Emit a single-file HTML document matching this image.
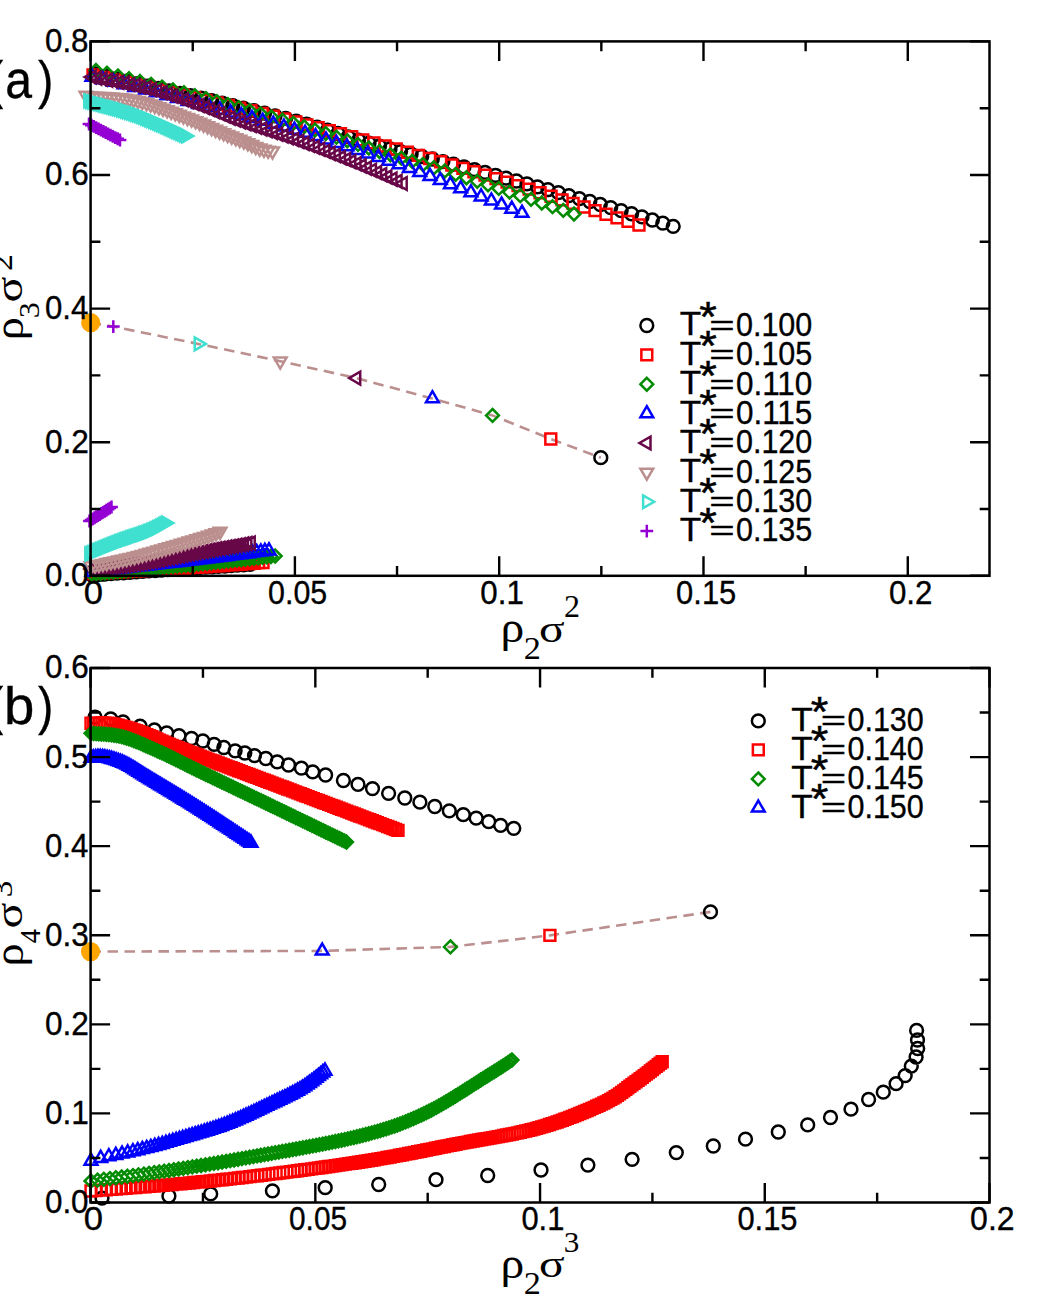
<!DOCTYPE html>
<html><head><meta charset="utf-8"><style>html,body{margin:0;padding:0;background:#fff;overflow:hidden}svg{display:block}</style></head>
<body>
<svg width="1052" height="1304" viewBox="0 0 1052 1304">
<rect width="1052" height="1304" fill="#fff"/>
<defs><clipPath id="c1"><rect x="0" y="0" width="1052" height="640"/></clipPath><clipPath id="c2"><rect x="0" y="640" width="1052" height="664"/></clipPath></defs>
<g clip-path="url(#c1)">
<path d="M101.40 74.00a6.4 6.4 0 1 0 -12.80 0a6.4 6.4 0 1 0 12.80 0ZM112.00 76.41a6.4 6.4 0 1 0 -12.80 0a6.4 6.4 0 1 0 12.80 0ZM122.61 78.81a6.4 6.4 0 1 0 -12.80 0a6.4 6.4 0 1 0 12.80 0ZM133.22 81.21a6.4 6.4 0 1 0 -12.80 0a6.4 6.4 0 1 0 12.80 0ZM143.82 83.62a6.4 6.4 0 1 0 -12.80 0a6.4 6.4 0 1 0 12.80 0ZM154.43 86.03a6.4 6.4 0 1 0 -12.80 0a6.4 6.4 0 1 0 12.80 0ZM165.03 88.45a6.4 6.4 0 1 0 -12.80 0a6.4 6.4 0 1 0 12.80 0ZM175.63 90.87a6.4 6.4 0 1 0 -12.80 0a6.4 6.4 0 1 0 12.80 0ZM186.23 93.31a6.4 6.4 0 1 0 -12.80 0a6.4 6.4 0 1 0 12.80 0ZM196.83 95.76a6.4 6.4 0 1 0 -12.80 0a6.4 6.4 0 1 0 12.80 0ZM207.42 98.24a6.4 6.4 0 1 0 -12.80 0a6.4 6.4 0 1 0 12.80 0ZM218.00 100.72a6.4 6.4 0 1 0 -12.80 0a6.4 6.4 0 1 0 12.80 0ZM228.60 103.19a6.4 6.4 0 1 0 -12.80 0a6.4 6.4 0 1 0 12.80 0ZM239.19 105.67a6.4 6.4 0 1 0 -12.80 0a6.4 6.4 0 1 0 12.80 0ZM249.77 108.15a6.4 6.4 0 1 0 -12.80 0a6.4 6.4 0 1 0 12.80 0ZM260.35 110.66a6.4 6.4 0 1 0 -12.80 0a6.4 6.4 0 1 0 12.80 0ZM270.93 113.21a6.4 6.4 0 1 0 -12.80 0a6.4 6.4 0 1 0 12.80 0ZM281.49 115.80a6.4 6.4 0 1 0 -12.80 0a6.4 6.4 0 1 0 12.80 0ZM292.04 118.45a6.4 6.4 0 1 0 -12.80 0a6.4 6.4 0 1 0 12.80 0ZM302.56 121.18a6.4 6.4 0 1 0 -12.80 0a6.4 6.4 0 1 0 12.80 0ZM313.06 124.03a6.4 6.4 0 1 0 -12.80 0a6.4 6.4 0 1 0 12.80 0ZM323.51 127.05a6.4 6.4 0 1 0 -12.80 0a6.4 6.4 0 1 0 12.80 0ZM333.91 130.22a6.4 6.4 0 1 0 -12.80 0a6.4 6.4 0 1 0 12.80 0ZM344.28 133.49a6.4 6.4 0 1 0 -12.80 0a6.4 6.4 0 1 0 12.80 0ZM354.64 136.79a6.4 6.4 0 1 0 -12.80 0a6.4 6.4 0 1 0 12.80 0ZM365.02 140.05a6.4 6.4 0 1 0 -12.80 0a6.4 6.4 0 1 0 12.80 0ZM375.43 143.19a6.4 6.4 0 1 0 -12.80 0a6.4 6.4 0 1 0 12.80 0ZM385.89 146.16a6.4 6.4 0 1 0 -12.80 0a6.4 6.4 0 1 0 12.80 0ZM396.41 148.94a6.4 6.4 0 1 0 -12.80 0a6.4 6.4 0 1 0 12.80 0ZM406.96 151.56a6.4 6.4 0 1 0 -12.80 0a6.4 6.4 0 1 0 12.80 0ZM417.54 154.07a6.4 6.4 0 1 0 -12.80 0a6.4 6.4 0 1 0 12.80 0ZM428.13 156.53a6.4 6.4 0 1 0 -12.80 0a6.4 6.4 0 1 0 12.80 0ZM438.73 159.00a6.4 6.4 0 1 0 -12.80 0a6.4 6.4 0 1 0 12.80 0ZM449.30 161.53a6.4 6.4 0 1 0 -12.80 0a6.4 6.4 0 1 0 12.80 0ZM459.86 164.13a6.4 6.4 0 1 0 -12.80 0a6.4 6.4 0 1 0 12.80 0ZM470.40 166.84a6.4 6.4 0 1 0 -12.80 0a6.4 6.4 0 1 0 12.80 0ZM480.91 169.62a6.4 6.4 0 1 0 -12.80 0a6.4 6.4 0 1 0 12.80 0ZM491.41 172.43a6.4 6.4 0 1 0 -12.80 0a6.4 6.4 0 1 0 12.80 0ZM501.91 175.28a6.4 6.4 0 1 0 -12.80 0a6.4 6.4 0 1 0 12.80 0ZM512.40 178.14a6.4 6.4 0 1 0 -12.80 0a6.4 6.4 0 1 0 12.80 0ZM522.89 181.01a6.4 6.4 0 1 0 -12.80 0a6.4 6.4 0 1 0 12.80 0ZM533.37 183.90a6.4 6.4 0 1 0 -12.80 0a6.4 6.4 0 1 0 12.80 0ZM543.86 186.81a6.4 6.4 0 1 0 -12.80 0a6.4 6.4 0 1 0 12.80 0ZM554.33 189.72a6.4 6.4 0 1 0 -12.80 0a6.4 6.4 0 1 0 12.80 0ZM564.81 192.65a6.4 6.4 0 1 0 -12.80 0a6.4 6.4 0 1 0 12.80 0ZM575.28 195.59a6.4 6.4 0 1 0 -12.80 0a6.4 6.4 0 1 0 12.80 0ZM585.74 198.54a6.4 6.4 0 1 0 -12.80 0a6.4 6.4 0 1 0 12.80 0ZM596.20 201.51a6.4 6.4 0 1 0 -12.80 0a6.4 6.4 0 1 0 12.80 0ZM606.66 204.52a6.4 6.4 0 1 0 -12.80 0a6.4 6.4 0 1 0 12.80 0ZM617.10 207.56a6.4 6.4 0 1 0 -12.80 0a6.4 6.4 0 1 0 12.80 0ZM627.53 210.64a6.4 6.4 0 1 0 -12.80 0a6.4 6.4 0 1 0 12.80 0ZM637.95 213.75a6.4 6.4 0 1 0 -12.80 0a6.4 6.4 0 1 0 12.80 0ZM648.37 216.88a6.4 6.4 0 1 0 -12.80 0a6.4 6.4 0 1 0 12.80 0ZM658.78 220.02a6.4 6.4 0 1 0 -12.80 0a6.4 6.4 0 1 0 12.80 0ZM669.19 223.17a6.4 6.4 0 1 0 -12.80 0a6.4 6.4 0 1 0 12.80 0ZM679.60 226.30a6.4 6.4 0 1 0 -12.80 0a6.4 6.4 0 1 0 12.80 0Z" fill="none" stroke="#000000" stroke-width="2.5" stroke-linejoin="miter"/>
<path d="M98.40 575.00a6.4 6.4 0 1 0 -12.80 0a6.4 6.4 0 1 0 12.80 0ZM104.72 574.55a6.4 6.4 0 1 0 -12.80 0a6.4 6.4 0 1 0 12.80 0ZM111.04 574.10a6.4 6.4 0 1 0 -12.80 0a6.4 6.4 0 1 0 12.80 0ZM117.35 573.64a6.4 6.4 0 1 0 -12.80 0a6.4 6.4 0 1 0 12.80 0ZM123.67 573.19a6.4 6.4 0 1 0 -12.80 0a6.4 6.4 0 1 0 12.80 0ZM129.99 572.74a6.4 6.4 0 1 0 -12.80 0a6.4 6.4 0 1 0 12.80 0ZM136.31 572.29a6.4 6.4 0 1 0 -12.80 0a6.4 6.4 0 1 0 12.80 0ZM142.63 571.84a6.4 6.4 0 1 0 -12.80 0a6.4 6.4 0 1 0 12.80 0ZM148.95 571.40a6.4 6.4 0 1 0 -12.80 0a6.4 6.4 0 1 0 12.80 0ZM155.26 570.95a6.4 6.4 0 1 0 -12.80 0a6.4 6.4 0 1 0 12.80 0ZM161.58 570.51a6.4 6.4 0 1 0 -12.80 0a6.4 6.4 0 1 0 12.80 0ZM167.90 570.08a6.4 6.4 0 1 0 -12.80 0a6.4 6.4 0 1 0 12.80 0ZM174.22 569.65a6.4 6.4 0 1 0 -12.80 0a6.4 6.4 0 1 0 12.80 0ZM180.54 569.22a6.4 6.4 0 1 0 -12.80 0a6.4 6.4 0 1 0 12.80 0ZM186.86 568.81a6.4 6.4 0 1 0 -12.80 0a6.4 6.4 0 1 0 12.80 0ZM193.18 568.40a6.4 6.4 0 1 0 -12.80 0a6.4 6.4 0 1 0 12.80 0ZM199.50 567.99a6.4 6.4 0 1 0 -12.80 0a6.4 6.4 0 1 0 12.80 0ZM205.83 567.59a6.4 6.4 0 1 0 -12.80 0a6.4 6.4 0 1 0 12.80 0ZM212.15 567.18a6.4 6.4 0 1 0 -12.80 0a6.4 6.4 0 1 0 12.80 0ZM218.47 566.78a6.4 6.4 0 1 0 -12.80 0a6.4 6.4 0 1 0 12.80 0ZM224.79 566.38a6.4 6.4 0 1 0 -12.80 0a6.4 6.4 0 1 0 12.80 0ZM231.11 565.99a6.4 6.4 0 1 0 -12.80 0a6.4 6.4 0 1 0 12.80 0ZM237.43 565.59a6.4 6.4 0 1 0 -12.80 0a6.4 6.4 0 1 0 12.80 0ZM243.76 565.20a6.4 6.4 0 1 0 -12.80 0a6.4 6.4 0 1 0 12.80 0ZM250.08 564.80a6.4 6.4 0 1 0 -12.80 0a6.4 6.4 0 1 0 12.80 0ZM256.40 564.40a6.4 6.4 0 1 0 -12.80 0a6.4 6.4 0 1 0 12.80 0Z" fill="none" stroke="#000000" stroke-width="2.5" stroke-linejoin="miter"/>
<path d="M87.56 69.56h10.88v10.88h-10.88ZM98.85 72.07h10.88v10.88h-10.88ZM110.14 74.58h10.88v10.88h-10.88ZM121.42 77.08h10.88v10.88h-10.88ZM132.71 79.59h10.88v10.88h-10.88ZM144.00 82.11h10.88v10.88h-10.88ZM155.28 84.63h10.88v10.88h-10.88ZM166.56 87.17h10.88v10.88h-10.88ZM177.84 89.72h10.88v10.88h-10.88ZM189.11 92.30h10.88v10.88h-10.88ZM200.38 94.90h10.88v10.88h-10.88ZM211.65 97.48h10.88v10.88h-10.88ZM222.93 100.05h10.88v10.88h-10.88ZM234.20 102.63h10.88v10.88h-10.88ZM245.46 105.26h10.88v10.88h-10.88ZM256.70 107.95h10.88v10.88h-10.88ZM267.93 110.72h10.88v10.88h-10.88ZM279.14 113.55h10.88v10.88h-10.88ZM290.34 116.45h10.88v10.88h-10.88ZM301.52 119.40h10.88v10.88h-10.88ZM312.70 122.36h10.88v10.88h-10.88ZM323.87 125.34h10.88v10.88h-10.88ZM335.04 128.33h10.88v10.88h-10.88ZM346.20 131.35h10.88v10.88h-10.88ZM357.36 134.38h10.88v10.88h-10.88ZM368.51 137.44h10.88v10.88h-10.88ZM379.66 140.52h10.88v10.88h-10.88ZM390.79 143.62h10.88v10.88h-10.88ZM401.93 146.75h10.88v10.88h-10.88ZM413.05 149.92h10.88v10.88h-10.88ZM424.16 153.11h10.88v10.88h-10.88ZM435.26 156.34h10.88v10.88h-10.88ZM446.36 159.61h10.88v10.88h-10.88ZM457.43 162.92h10.88v10.88h-10.88ZM468.50 166.29h10.88v10.88h-10.88ZM479.54 169.71h10.88v10.88h-10.88ZM490.58 173.17h10.88v10.88h-10.88ZM501.60 176.66h10.88v10.88h-10.88ZM512.62 180.17h10.88v10.88h-10.88ZM523.63 183.70h10.88v10.88h-10.88ZM534.63 187.26h10.88v10.88h-10.88ZM545.63 190.82h10.88v10.88h-10.88ZM556.63 194.40h10.88v10.88h-10.88ZM567.62 197.99h10.88v10.88h-10.88ZM578.61 201.58h10.88v10.88h-10.88ZM589.60 205.19h10.88v10.88h-10.88ZM600.58 208.79h10.88v10.88h-10.88ZM611.57 212.39h10.88v10.88h-10.88ZM622.56 215.99h10.88v10.88h-10.88ZM633.56 219.56h10.88v10.88h-10.88Z" fill="none" stroke="#ff0000" stroke-width="2.5" stroke-linejoin="miter"/>
<path d="M86.56 568.06h10.88v10.88h-10.88ZM90.95 567.81h10.88v10.88h-10.88ZM95.33 567.57h10.88v10.88h-10.88ZM99.72 567.33h10.88v10.88h-10.88ZM104.11 567.09h10.88v10.88h-10.88ZM108.50 566.86h10.88v10.88h-10.88ZM112.88 566.62h10.88v10.88h-10.88ZM117.27 566.38h10.88v10.88h-10.88ZM121.66 566.13h10.88v10.88h-10.88ZM126.04 565.89h10.88v10.88h-10.88ZM130.43 565.65h10.88v10.88h-10.88ZM134.82 565.40h10.88v10.88h-10.88ZM139.20 565.16h10.88v10.88h-10.88ZM143.59 564.91h10.88v10.88h-10.88ZM147.98 564.66h10.88v10.88h-10.88ZM152.36 564.40h10.88v10.88h-10.88ZM156.75 564.15h10.88v10.88h-10.88ZM161.14 563.89h10.88v10.88h-10.88ZM165.52 563.62h10.88v10.88h-10.88ZM169.91 563.35h10.88v10.88h-10.88ZM174.29 563.08h10.88v10.88h-10.88ZM178.68 562.79h10.88v10.88h-10.88ZM183.06 562.50h10.88v10.88h-10.88ZM187.44 562.21h10.88v10.88h-10.88ZM191.83 561.91h10.88v10.88h-10.88ZM196.21 561.61h10.88v10.88h-10.88ZM200.59 561.30h10.88v10.88h-10.88ZM204.98 560.99h10.88v10.88h-10.88ZM209.36 560.68h10.88v10.88h-10.88ZM213.74 560.36h10.88v10.88h-10.88ZM218.12 560.05h10.88v10.88h-10.88ZM222.50 559.73h10.88v10.88h-10.88ZM226.89 559.41h10.88v10.88h-10.88ZM231.27 559.09h10.88v10.88h-10.88ZM235.65 558.77h10.88v10.88h-10.88ZM240.03 558.44h10.88v10.88h-10.88ZM244.41 558.12h10.88v10.88h-10.88ZM248.80 557.80h10.88v10.88h-10.88ZM253.18 557.48h10.88v10.88h-10.88ZM257.56 557.16h10.88v10.88h-10.88Z" fill="none" stroke="#ff0000" stroke-width="2.5" stroke-linejoin="miter"/>
<path d="M96.00 64.10L102.40 70.50L96.00 76.90L89.60 70.50ZM107.00 66.87L113.40 73.27L107.00 79.67L100.60 73.27ZM118.01 69.62L124.41 76.02L118.01 82.42L111.61 76.02ZM129.02 72.38L135.42 78.78L129.02 85.18L122.62 78.78ZM140.03 75.14L146.43 81.54L140.03 87.94L133.63 81.54ZM151.03 77.92L157.43 84.32L151.03 90.72L144.63 84.32ZM162.03 80.71L168.43 87.11L162.03 93.51L155.63 87.11ZM173.02 83.52L179.42 89.92L173.02 96.32L166.62 89.92ZM184.00 86.37L190.40 92.77L184.00 99.17L177.60 92.77ZM194.98 89.26L201.38 95.66L194.98 102.06L188.58 95.66ZM205.94 92.20L212.34 98.60L205.94 105.00L199.54 98.60ZM216.89 95.18L223.29 101.58L216.89 107.98L210.49 101.58ZM227.83 98.19L234.23 104.59L227.83 110.99L221.43 104.59ZM238.76 101.23L245.16 107.63L238.76 114.03L232.36 107.63ZM249.68 104.30L256.08 110.70L249.68 117.10L243.28 110.70ZM260.60 107.41L267.00 113.81L260.60 120.21L254.20 113.81ZM271.50 110.55L277.90 116.95L271.50 123.35L265.10 116.95ZM282.39 113.74L288.79 120.14L282.39 126.54L275.99 120.14ZM293.27 116.97L299.67 123.37L293.27 129.77L286.87 123.37ZM304.13 120.26L310.53 126.66L304.13 133.06L297.73 126.66ZM314.95 123.67L321.35 130.07L314.95 136.47L308.55 130.07ZM325.74 127.18L332.14 133.58L325.74 139.98L319.34 133.58ZM336.51 130.78L342.91 137.18L336.51 143.58L330.11 137.18ZM347.26 134.41L353.66 140.81L347.26 147.21L340.86 140.81ZM358.01 138.03L364.41 144.43L358.01 150.83L351.61 144.43ZM368.78 141.60L375.18 148.00L368.78 154.40L362.38 148.00ZM379.58 145.07L385.98 151.47L379.58 157.87L373.18 151.47ZM390.42 148.42L396.82 154.82L390.42 161.22L384.02 154.82ZM401.29 151.69L407.69 158.09L401.29 164.49L394.89 158.09ZM412.18 154.90L418.58 161.30L412.18 167.70L405.78 161.30ZM423.06 158.10L429.46 164.50L423.06 170.90L416.66 164.50ZM433.95 161.31L440.35 167.71L433.95 174.11L427.55 167.71ZM444.81 164.58L451.21 170.98L444.81 177.38L438.41 170.98ZM455.66 167.92L462.06 174.32L455.66 180.72L449.26 174.32ZM466.47 171.35L472.87 177.75L466.47 184.15L460.07 177.75ZM477.26 174.87L483.66 181.27L477.26 187.67L470.86 181.27ZM488.03 178.43L494.43 184.83L488.03 191.23L481.63 184.83ZM498.79 182.04L505.19 188.44L498.79 194.84L492.39 188.44ZM509.55 185.66L515.95 192.06L509.55 198.46L503.15 192.06ZM520.30 189.30L526.70 195.70L520.30 202.10L513.90 195.70ZM531.04 192.95L537.44 199.35L531.04 205.75L524.64 199.35ZM541.78 196.61L548.18 203.01L541.78 209.41L535.38 203.01ZM552.52 200.28L558.92 206.68L552.52 213.08L546.12 206.68ZM563.26 203.95L569.66 210.35L563.26 216.75L556.86 210.35ZM574.00 207.60L580.40 214.00L574.00 220.40L567.60 214.00Z" fill="none" stroke="#008b00" stroke-width="2.5" stroke-linejoin="miter"/>
<path d="M92.00 567.60L98.40 574.00L92.00 580.40L85.60 574.00ZM96.26 567.21L102.66 573.61L96.26 580.01L89.86 573.61ZM100.53 566.82L106.93 573.22L100.53 579.62L94.13 573.22ZM104.79 566.43L111.19 572.83L104.79 579.23L98.39 572.83ZM109.05 566.04L115.45 572.44L109.05 578.84L102.65 572.44ZM113.32 565.65L119.72 572.05L113.32 578.45L106.92 572.05ZM117.58 565.26L123.98 571.66L117.58 578.06L111.18 571.66ZM121.84 564.88L128.24 571.28L121.84 577.68L115.44 571.28ZM126.11 564.49L132.51 570.89L126.11 577.29L119.71 570.89ZM130.37 564.10L136.77 570.50L130.37 576.90L123.97 570.50ZM134.63 563.71L141.03 570.11L134.63 576.51L128.23 570.11ZM138.90 563.32L145.30 569.72L138.90 576.12L132.50 569.72ZM143.16 562.93L149.56 569.33L143.16 575.73L136.76 569.33ZM147.42 562.54L153.82 568.94L147.42 575.34L141.02 568.94ZM151.69 562.15L158.09 568.55L151.69 574.95L145.29 568.55ZM155.95 561.75L162.35 568.15L155.95 574.55L149.55 568.15ZM160.21 561.36L166.61 567.76L160.21 574.16L153.81 567.76ZM164.48 560.97L170.88 567.37L164.48 573.77L158.08 567.37ZM168.74 560.57L175.14 566.97L168.74 573.37L162.34 566.97ZM173.00 560.17L179.40 566.57L173.00 572.97L166.60 566.57ZM177.26 559.77L183.66 566.17L177.26 572.57L170.86 566.17ZM181.53 559.37L187.93 565.77L181.53 572.17L175.13 565.77ZM185.79 558.97L192.19 565.37L185.79 571.77L179.39 565.37ZM190.05 558.56L196.45 564.96L190.05 571.36L183.65 564.96ZM194.31 558.15L200.71 564.55L194.31 570.95L187.91 564.55ZM198.57 557.74L204.97 564.14L198.57 570.54L192.17 564.14ZM202.83 557.32L209.23 563.72L202.83 570.12L196.43 563.72ZM207.09 556.89L213.49 563.29L207.09 569.69L200.69 563.29ZM211.35 556.46L217.75 562.86L211.35 569.26L204.95 562.86ZM215.61 556.03L222.01 562.43L215.61 568.83L209.21 562.43ZM219.87 555.59L226.27 561.99L219.87 568.39L213.47 561.99ZM224.13 555.14L230.53 561.54L224.13 567.94L217.73 561.54ZM228.38 554.69L234.78 561.09L228.38 567.49L221.98 561.09ZM232.64 554.24L239.04 560.64L232.64 567.04L226.24 560.64ZM236.90 553.78L243.30 560.18L236.90 566.58L230.50 560.18ZM241.15 553.32L247.55 559.72L241.15 566.12L234.75 559.72ZM245.41 552.86L251.81 559.26L245.41 565.66L239.01 559.26ZM249.67 552.40L256.07 558.80L249.67 565.20L243.27 558.80ZM253.92 551.93L260.32 558.33L253.92 564.73L247.52 558.33ZM258.18 551.46L264.58 557.86L258.18 564.26L251.78 557.86ZM262.43 550.99L268.83 557.39L262.43 563.79L256.03 557.39ZM266.69 550.53L273.09 556.93L266.69 563.33L260.29 556.93ZM270.94 550.06L277.34 556.46L270.94 562.86L264.54 556.46ZM275.20 549.60L281.60 556.00L275.20 562.40L268.80 556.00Z" fill="none" stroke="#008b00" stroke-width="2.5" stroke-linejoin="miter"/>
<path d="M92.00 69.61L98.40 80.70L85.60 80.70ZM102.72 72.16L109.12 83.24L96.32 83.24ZM113.44 74.69L119.84 85.78L107.04 85.78ZM124.15 77.25L130.55 88.33L117.75 88.33ZM134.86 79.84L141.26 90.92L128.46 90.92ZM145.55 82.48L151.95 93.57L139.15 93.57ZM156.22 85.23L162.62 96.31L149.82 96.31ZM166.86 88.09L173.26 99.17L160.46 99.17ZM177.48 91.02L183.88 102.11L171.08 102.11ZM188.09 93.98L194.49 105.06L181.69 105.06ZM198.71 96.90L205.11 107.99L192.31 107.99ZM209.35 99.78L215.75 110.86L202.95 110.86ZM220.00 102.57L226.40 113.66L213.60 113.66ZM230.67 105.33L237.07 116.42L224.27 116.42ZM241.33 108.09L247.73 119.17L234.93 119.17ZM251.99 110.86L258.39 121.95L245.59 121.95ZM262.64 113.68L269.04 124.76L256.24 124.76ZM273.28 116.55L279.68 127.64L266.88 127.64ZM283.89 119.50L290.29 130.59L277.49 130.59ZM294.47 122.56L300.87 133.64L288.07 133.64ZM305.02 125.74L311.42 136.83L298.62 136.83ZM315.54 129.02L321.94 140.11L309.14 140.11ZM326.03 132.38L332.43 143.47L319.63 143.47ZM336.50 135.80L342.90 146.89L330.10 146.89ZM346.95 139.28L353.35 150.36L340.55 150.36ZM357.39 142.80L363.79 153.88L350.99 153.88ZM367.82 146.36L374.22 157.44L361.42 157.44ZM378.23 149.95L384.63 161.04L371.83 161.04ZM388.63 153.59L395.03 164.67L382.23 164.67ZM399.02 157.26L405.42 168.34L392.62 168.34ZM409.38 161.00L415.78 172.09L402.98 172.09ZM419.69 164.87L426.09 175.95L413.29 175.95ZM429.96 168.85L436.36 179.93L423.56 179.93ZM440.19 172.93L446.59 184.02L433.79 184.02ZM450.41 177.06L456.81 188.15L444.01 188.15ZM460.63 181.17L467.03 192.26L454.23 192.26ZM470.87 185.23L477.27 196.32L464.47 196.32ZM481.10 189.30L487.50 200.39L474.70 200.39ZM491.33 193.39L497.73 204.48L484.93 204.48ZM501.56 197.50L507.96 208.58L495.16 208.58ZM511.78 201.60L518.18 212.69L505.38 212.69ZM522.00 205.71L528.40 216.80L515.60 216.80Z" fill="none" stroke="#0000ff" stroke-width="2.5" stroke-linejoin="miter"/>
<path d="M92.00 564.61L98.40 575.70L85.60 575.70ZM96.12 564.14L102.52 575.23L89.72 575.23ZM100.24 563.68L106.64 574.76L93.84 574.76ZM104.36 563.22L110.76 574.30L97.96 574.30ZM108.48 562.75L114.88 573.84L102.08 573.84ZM112.60 562.29L119.00 573.38L106.20 573.38ZM116.72 561.83L123.12 572.91L110.32 572.91ZM120.84 561.37L127.24 572.45L114.44 572.45ZM124.96 560.90L131.36 571.99L118.56 571.99ZM129.08 560.44L135.48 571.53L122.68 571.53ZM133.20 559.98L139.60 571.06L126.80 571.06ZM137.32 559.51L143.72 570.60L130.92 570.60ZM141.44 559.05L147.84 570.14L135.04 570.14ZM145.56 558.59L151.96 569.67L139.16 569.67ZM149.68 558.12L156.08 569.20L143.28 569.20ZM153.80 557.65L160.20 568.74L147.40 568.74ZM157.92 557.19L164.32 568.27L151.52 568.27ZM162.04 556.72L168.44 567.80L155.64 567.80ZM166.16 556.25L172.56 567.33L159.76 567.33ZM170.28 555.78L176.68 566.86L163.88 566.86ZM174.40 555.30L180.80 566.39L168.00 566.39ZM178.52 554.83L184.92 565.92L172.12 565.92ZM182.64 554.35L189.04 565.44L176.24 565.44ZM186.75 553.88L193.15 564.96L180.35 564.96ZM190.87 553.39L197.27 564.48L184.47 564.48ZM194.99 552.91L201.39 563.99L188.59 563.99ZM199.11 552.42L205.51 563.50L192.71 563.50ZM203.22 551.92L209.62 563.00L196.82 563.00ZM207.34 551.42L213.74 562.50L200.94 562.50ZM211.45 550.90L217.85 561.99L205.05 561.99ZM215.57 550.39L221.97 561.47L209.17 561.47ZM219.68 549.86L226.08 560.95L213.28 560.95ZM223.79 549.34L230.19 560.42L217.39 560.42ZM227.90 548.80L234.30 559.89L221.50 559.89ZM232.02 548.26L238.42 559.35L225.62 559.35ZM236.13 547.72L242.53 558.81L229.73 558.81ZM240.24 547.18L246.64 558.26L233.84 558.26ZM244.35 546.63L250.75 557.71L237.95 557.71ZM248.45 546.07L254.85 557.16L242.05 557.16ZM252.56 545.52L258.96 556.61L246.16 556.61ZM256.67 544.96L263.07 556.05L250.27 556.05ZM260.78 544.41L267.18 555.49L254.38 555.49ZM264.89 543.85L271.29 554.94L258.49 554.94ZM269.00 543.31L275.40 554.40L262.60 554.40Z" fill="none" stroke="#0000ff" stroke-width="2.5" stroke-linejoin="miter"/>
<path d="M84.61 77.00L95.70 70.60L95.70 83.40ZM90.09 78.08L101.18 71.68L101.18 84.48ZM95.58 79.12L106.66 72.72L106.66 85.52ZM101.06 80.15L112.15 73.75L112.15 86.55ZM106.55 81.20L117.64 74.80L117.64 87.60ZM112.03 82.27L123.12 75.87L123.12 88.67ZM117.51 83.36L128.60 76.96L128.60 89.76ZM122.98 84.48L134.07 78.08L134.07 90.88ZM128.44 85.64L139.53 79.24L139.53 92.04ZM133.89 86.86L144.98 80.46L144.98 93.26ZM139.32 88.16L150.41 81.76L150.41 94.56ZM144.73 89.57L155.81 83.17L155.81 95.97ZM150.10 91.08L161.19 84.68L161.19 97.48ZM155.45 92.68L166.54 86.28L166.54 99.08ZM160.78 94.36L171.87 87.96L171.87 100.76ZM166.09 96.10L177.17 89.70L177.17 102.50ZM171.38 97.89L182.46 91.49L182.46 104.29ZM176.65 99.72L187.74 93.32L187.74 106.12ZM181.92 101.59L193.00 95.19L193.00 107.99ZM187.17 103.48L198.26 97.08L198.26 109.88ZM192.43 105.37L203.51 98.97L203.51 111.77ZM197.67 107.31L208.75 100.91L208.75 113.71ZM202.85 109.38L213.94 102.98L213.94 115.78ZM207.99 111.57L219.07 105.17L219.07 117.97ZM213.10 113.81L224.19 107.41L224.19 120.21ZM218.24 116.00L229.33 109.60L229.33 122.40ZM223.43 118.07L234.51 111.67L234.51 124.47ZM228.66 120.02L239.75 113.62L239.75 126.42ZM233.93 121.87L245.01 115.47L245.01 128.27ZM239.22 123.67L250.30 117.27L250.30 130.07ZM244.52 125.43L255.60 119.03L255.60 131.83ZM249.83 127.16L260.91 120.76L260.91 133.56ZM255.14 128.89L266.22 122.49L266.22 135.29ZM260.45 130.61L271.53 124.21L271.53 137.01ZM265.76 132.35L276.84 125.95L276.84 138.75ZM271.06 134.09L282.15 127.69L282.15 140.49ZM276.36 135.86L287.45 129.46L287.45 142.26ZM281.65 137.65L292.73 131.25L292.73 144.05ZM286.92 139.50L298.01 133.10L298.01 145.90ZM292.18 141.39L303.26 134.99L303.26 147.79ZM297.42 143.31L308.50 136.91L308.50 149.71ZM302.65 145.27L313.74 138.87L313.74 151.67ZM307.87 147.25L318.96 140.85L318.96 153.65ZM313.09 149.25L324.17 142.85L324.17 155.65ZM318.29 151.28L329.38 144.88L329.38 157.68ZM323.49 153.32L334.57 146.92L334.57 159.72ZM328.68 155.39L339.76 148.99L339.76 161.79ZM333.86 157.46L344.94 151.06L344.94 163.86ZM339.04 159.55L350.12 153.15L350.12 165.95ZM344.21 161.65L355.30 155.25L355.30 168.05ZM349.38 163.78L360.46 157.38L360.46 170.18ZM354.53 165.93L365.62 159.53L365.62 172.33ZM359.68 168.10L370.76 161.70L370.76 174.50ZM364.82 170.28L375.90 163.88L375.90 176.68ZM369.96 172.47L381.04 166.07L381.04 178.87ZM375.09 174.67L386.17 168.27L386.17 181.07ZM380.22 176.88L391.30 170.48L391.30 183.28ZM385.35 179.09L396.43 172.69L396.43 185.49ZM390.48 181.30L401.56 174.90L401.56 187.70ZM395.61 183.50L406.70 177.10L406.70 189.90Z" fill="none" stroke="#670748" stroke-width="2.5" stroke-linejoin="miter"/>
<path d="M84.61 569.00L95.70 562.60L95.70 575.40ZM88.02 568.66L99.11 562.26L99.11 575.06ZM91.44 568.34L102.52 561.94L102.52 574.74ZM94.85 568.03L105.94 561.63L105.94 574.43ZM98.27 567.72L109.35 561.32L109.35 574.12ZM101.68 567.39L112.77 560.99L112.77 573.79ZM105.10 567.06L116.18 560.66L116.18 573.46ZM108.51 566.71L119.59 560.31L119.59 573.11ZM111.92 566.34L123.00 559.94L123.00 572.74ZM115.33 565.94L126.41 559.54L126.41 572.34ZM118.73 565.53L129.82 559.13L129.82 571.93ZM122.13 565.09L133.22 558.69L133.22 571.49ZM125.53 564.61L136.62 558.21L136.62 571.01ZM128.92 564.11L140.01 557.71L140.01 570.51ZM132.31 563.56L143.39 557.16L143.39 569.96ZM135.69 562.99L146.78 556.59L146.78 569.39ZM139.07 562.40L150.15 556.00L150.15 568.80ZM142.44 561.78L153.53 555.38L153.53 568.18ZM145.82 561.15L156.90 554.75L156.90 567.55ZM149.18 560.51L160.27 554.11L160.27 566.91ZM152.55 559.86L163.64 553.46L163.64 566.26ZM155.92 559.20L167.00 552.80L167.00 565.60ZM159.28 558.54L170.37 552.14L170.37 564.94ZM162.65 557.87L173.73 551.47L173.73 564.27ZM166.01 557.20L177.10 550.80L177.10 563.60ZM169.38 556.53L180.46 550.13L180.46 562.93ZM172.74 555.86L183.82 549.46L183.82 562.26ZM176.10 555.19L187.19 548.79L187.19 561.59ZM179.47 554.52L190.55 548.12L190.55 560.92ZM182.83 553.86L193.92 547.46L193.92 560.26ZM186.20 553.21L197.29 546.81L197.29 559.61ZM189.57 552.57L200.66 546.17L200.66 558.97ZM192.94 551.94L204.03 545.54L204.03 558.34ZM196.32 551.32L207.40 544.92L207.40 557.72ZM199.69 550.71L210.78 544.31L210.78 557.11ZM203.07 550.10L214.15 543.70L214.15 556.50ZM206.44 549.50L217.53 543.10L217.53 555.90ZM209.82 548.90L220.91 542.50L220.91 555.30ZM213.20 548.30L224.28 541.90L224.28 554.70ZM216.58 547.71L227.66 541.31L227.66 554.11ZM219.96 547.12L231.04 540.72L231.04 553.52ZM223.33 546.53L234.42 540.13L234.42 552.93ZM226.71 545.94L237.80 539.54L237.80 552.34ZM230.09 545.35L241.18 538.95L241.18 551.75ZM233.47 544.76L244.56 538.36L244.56 551.16ZM236.85 544.18L247.94 537.78L247.94 550.58ZM240.23 543.59L251.32 537.19L251.32 549.99ZM243.61 543.00L254.70 536.60L254.70 549.40Z" fill="none" stroke="#670748" stroke-width="2.5" stroke-linejoin="miter"/>
<path d="M86.00 102.89L92.40 91.80L79.60 91.80ZM90.35 103.22L96.75 92.14L83.95 92.14ZM94.70 103.49L101.10 92.40L88.30 92.40ZM99.05 103.74L105.45 92.65L92.65 92.65ZM103.41 104.01L109.81 92.92L97.01 92.92ZM107.76 104.30L114.16 93.21L101.36 93.21ZM112.11 104.63L118.51 93.54L105.71 93.54ZM116.45 105.00L122.85 93.92L110.05 93.92ZM120.79 105.43L127.19 94.35L114.39 94.35ZM125.12 105.94L131.52 94.85L118.72 94.85ZM129.44 106.53L135.84 95.45L123.04 95.45ZM133.74 107.24L140.14 96.16L127.34 96.16ZM138.02 108.11L144.42 97.03L131.62 97.03ZM142.25 109.14L148.65 98.06L135.85 98.06ZM146.46 110.30L152.86 99.21L140.06 99.21ZM150.63 111.55L157.03 100.46L144.23 100.46ZM154.78 112.89L161.18 101.80L148.38 101.80ZM158.91 114.30L165.31 103.21L152.51 103.21ZM163.02 115.76L169.42 104.67L156.62 104.67ZM167.11 117.27L173.51 106.18L160.71 106.18ZM171.19 118.81L177.59 107.72L164.79 107.72ZM175.26 120.37L181.66 109.28L168.86 109.28ZM179.33 121.93L185.73 110.85L172.93 110.85ZM183.40 123.50L189.80 112.41L177.00 112.41ZM187.48 125.04L193.88 113.95L181.08 113.95ZM191.55 126.61L197.95 115.53L185.15 115.53ZM195.59 128.25L201.99 117.16L189.19 117.16ZM199.62 129.93L206.02 118.84L193.22 118.84ZM203.62 131.65L210.02 120.56L197.22 120.56ZM207.62 133.40L214.02 122.31L201.22 122.31ZM211.60 135.16L218.00 124.08L205.20 124.08ZM215.59 136.93L221.99 125.84L209.19 125.84ZM219.59 138.67L225.99 127.58L213.19 127.58ZM223.61 140.36L230.01 129.27L217.21 129.27ZM227.64 142.02L234.04 130.94L221.24 130.94ZM231.68 143.66L238.08 132.58L225.28 132.58ZM235.72 145.30L242.12 134.21L229.32 134.21ZM239.77 146.93L246.17 135.85L233.37 135.85ZM243.80 148.59L250.20 137.50L237.40 137.50ZM247.81 150.31L254.21 139.22L241.41 139.22ZM251.77 152.13L258.17 141.05L245.37 141.05ZM255.72 153.97L262.12 142.88L249.32 142.88ZM259.76 155.63L266.16 144.54L253.36 144.54ZM263.93 156.87L270.33 145.79L257.53 145.79ZM268.20 157.75L274.60 146.66L261.80 146.66ZM272.50 158.49L278.90 147.40L266.10 147.40Z" fill="none" stroke="#bc8f8f" stroke-width="2.5" stroke-linejoin="miter"/>
<path d="M91.00 573.39L97.40 562.30L84.60 562.30ZM94.96 572.57L101.36 561.48L88.56 561.48ZM98.93 571.77L105.33 560.68L92.53 560.68ZM102.91 570.97L109.31 559.89L96.51 559.89ZM106.87 570.17L113.27 559.08L100.47 559.08ZM110.84 569.35L117.24 558.27L104.44 558.27ZM114.81 568.52L121.21 557.44L108.41 557.44ZM118.76 567.67L125.16 556.59L112.36 556.59ZM122.72 566.80L129.12 555.72L116.32 555.72ZM126.67 565.90L133.07 554.82L120.27 554.82ZM130.61 564.97L137.01 553.89L124.21 553.89ZM134.54 564.01L140.94 552.93L128.14 552.93ZM138.47 563.01L144.87 551.93L132.07 551.93ZM142.38 561.98L148.78 550.89L135.98 550.89ZM146.29 560.92L152.69 549.83L139.89 549.83ZM150.20 559.84L156.60 548.76L143.80 548.76ZM154.10 558.75L160.50 547.67L147.70 547.67ZM157.99 557.65L164.39 546.57L151.59 546.57ZM161.89 556.54L168.29 545.46L155.49 545.46ZM165.78 555.43L172.18 544.34L159.38 544.34ZM169.67 554.30L176.07 543.22L163.27 543.22ZM173.56 553.17L179.96 542.09L167.16 542.09ZM177.45 552.04L183.85 540.95L171.05 540.95ZM181.33 550.90L187.73 539.81L174.93 539.81ZM185.22 549.76L191.62 538.67L178.82 538.67ZM189.10 548.61L195.50 537.53L182.70 537.53ZM192.99 547.46L199.39 536.38L186.59 536.38ZM196.87 546.32L203.27 535.23L190.47 535.23ZM200.75 545.17L207.15 534.08L194.35 534.08ZM204.63 544.00L211.03 532.92L198.23 532.92ZM208.50 542.80L214.90 531.72L202.10 531.72ZM212.35 541.55L218.75 530.47L205.95 530.47ZM216.18 540.23L222.58 529.15L209.78 529.15ZM220.00 538.89L226.40 527.80L213.60 527.80Z" fill="none" stroke="#bc8f8f" stroke-width="2.5" stroke-linejoin="miter"/>
<path d="M95.39 101.00L84.30 94.60L84.30 107.40ZM97.44 101.57L86.36 95.17L86.36 107.97ZM99.50 102.12L88.41 95.72L88.41 108.52ZM101.56 102.66L90.47 96.26L90.47 109.06ZM103.61 103.20L92.53 96.80L92.53 109.60ZM105.67 103.74L94.59 97.34L94.59 110.14ZM107.73 104.28L96.65 97.88L96.65 110.68ZM109.79 104.82L98.71 98.42L98.71 111.22ZM111.85 105.36L100.77 98.96L100.77 111.76ZM113.91 105.90L102.82 99.50L102.82 112.30ZM115.96 106.46L104.88 100.06L104.88 112.86ZM118.02 107.01L106.93 100.61L106.93 113.41ZM120.07 107.57L108.99 101.17L108.99 113.97ZM122.12 108.14L111.04 101.74L111.04 114.54ZM124.17 108.71L113.09 102.31L113.09 115.11ZM126.22 109.29L115.14 102.89L115.14 115.69ZM128.27 109.88L117.18 103.48L117.18 116.28ZM130.31 110.48L119.23 104.08L119.23 116.88ZM132.35 111.09L121.26 104.69L121.26 117.49ZM134.39 111.71L123.30 105.31L123.30 118.11ZM136.42 112.34L125.33 105.94L125.33 118.74ZM138.45 112.99L127.36 106.59L127.36 119.39ZM140.47 113.65L129.38 107.25L129.38 120.05ZM142.49 114.33L131.40 107.93L131.40 120.73ZM144.49 115.04L133.41 108.64L133.41 121.44ZM146.49 115.77L135.41 109.37L135.41 122.17ZM148.49 116.52L137.40 110.12L137.40 122.92ZM150.47 117.28L139.39 110.88L139.39 123.68ZM152.45 118.07L141.36 111.67L141.36 124.47ZM154.42 118.86L143.34 112.46L143.34 125.26ZM156.39 119.67L145.31 113.27L145.31 126.07ZM158.36 120.49L147.27 114.09L147.27 126.89ZM160.32 121.31L149.24 114.91L149.24 127.71ZM162.28 122.15L151.19 115.75L151.19 128.55ZM164.23 122.99L153.15 116.59L153.15 129.39ZM166.19 123.84L155.10 117.44L155.10 130.24ZM168.14 124.69L157.05 118.29L157.05 131.09ZM170.08 125.55L159.00 119.15L159.00 131.95ZM172.03 126.41L160.95 120.01L160.95 132.81ZM173.97 127.28L162.89 120.88L162.89 133.68ZM175.92 128.15L164.83 121.75L164.83 134.55ZM177.86 129.02L166.77 122.62L166.77 135.42ZM179.80 129.89L168.71 123.49L168.71 136.29ZM181.74 130.77L170.65 124.37L170.65 137.17ZM183.68 131.65L172.59 125.25L172.59 138.05ZM185.62 132.53L174.53 126.13L174.53 138.93ZM187.55 133.41L176.47 127.01L176.47 139.81ZM189.50 134.28L178.41 127.88L178.41 140.68ZM191.44 135.15L180.35 128.75L180.35 141.55ZM193.39 136.00L182.30 129.60L182.30 142.40Z" fill="none" stroke="#40e0d0" stroke-width="2.5" stroke-linejoin="miter"/>
<path d="M96.39 554.00L85.30 547.60L85.30 560.40ZM97.96 553.36L86.88 546.96L86.88 559.76ZM99.53 552.72L88.45 546.32L88.45 559.12ZM101.10 552.07L90.01 545.67L90.01 558.47ZM102.67 551.43L91.58 545.03L91.58 557.83ZM104.24 550.78L93.15 544.38L93.15 557.18ZM105.80 550.13L94.72 543.73L94.72 556.53ZM107.37 549.49L96.29 543.09L96.29 555.89ZM108.94 548.85L97.86 542.45L97.86 555.25ZM110.51 548.20L99.43 541.80L99.43 554.60ZM112.08 547.56L101.00 541.16L101.00 553.96ZM113.65 546.92L102.57 540.52L102.57 553.32ZM115.23 546.29L104.14 539.89L104.14 552.69ZM116.80 545.65L105.71 539.25L105.71 552.05ZM118.37 545.02L107.29 538.62L107.29 551.42ZM119.95 544.39L108.86 537.99L108.86 550.79ZM121.53 543.77L110.44 537.37L110.44 550.17ZM123.11 543.15L112.02 536.75L112.02 549.55ZM124.69 542.53L113.60 536.13L113.60 548.93ZM126.27 541.92L115.19 535.52L115.19 548.32ZM127.86 541.32L116.77 534.92L116.77 547.72ZM129.45 540.74L118.36 534.34L118.36 547.14ZM131.04 540.16L119.96 533.76L119.96 546.56ZM132.64 539.59L121.56 533.19L121.56 545.99ZM134.24 539.04L123.16 532.64L123.16 545.44ZM135.85 538.48L124.76 532.08L124.76 544.88ZM137.45 537.94L126.37 531.54L126.37 544.34ZM139.06 537.40L127.98 531.00L127.98 543.80ZM140.67 536.86L129.58 530.46L129.58 543.26ZM142.28 536.32L131.19 529.92L131.19 542.72ZM143.89 535.78L132.80 529.38L132.80 542.18ZM145.50 535.24L134.41 528.84L134.41 541.64ZM147.10 534.70L136.02 528.30L136.02 541.10ZM148.71 534.16L137.62 527.76L137.62 540.56ZM150.31 533.61L139.23 527.21L139.23 540.01ZM151.91 533.05L140.83 526.65L140.83 539.45ZM153.51 532.47L142.43 526.07L142.43 538.87ZM155.10 531.89L144.02 525.49L144.02 538.29ZM156.69 531.28L145.60 524.88L145.60 537.68ZM158.26 530.64L147.17 524.24L147.17 537.04ZM159.82 529.98L148.73 523.58L148.73 536.38ZM161.37 529.29L150.28 522.89L150.28 535.69ZM162.90 528.56L151.82 522.16L151.82 534.96ZM164.43 527.82L153.34 521.42L153.34 534.22ZM165.94 527.04L154.85 520.64L154.85 533.44ZM167.44 526.25L156.35 519.85L156.35 532.65ZM168.93 525.44L157.84 519.04L157.84 531.84ZM170.41 524.62L159.32 518.22L159.32 531.02ZM171.89 523.80L160.81 517.40L160.81 530.20ZM173.39 523.00L162.30 516.60L162.30 529.40Z" fill="none" stroke="#40e0d0" stroke-width="2.5" stroke-linejoin="miter"/>
<path d="M82.60 124.00H95.40M89.00 117.60V130.40M84.98 125.23H97.78M91.38 118.83V131.63M87.37 126.46H100.17M93.77 120.06V132.86M89.75 127.69H102.55M96.15 121.29V134.09M92.14 128.92H104.94M98.54 122.52V135.32M94.52 130.15H107.32M100.92 123.75V136.55M96.91 131.38H109.71M103.31 124.98V137.78M99.29 132.62H112.09M105.69 126.22V139.02M101.68 133.85H114.48M108.08 127.45V140.25M104.06 135.08H116.86M110.46 128.68V141.48M106.45 136.31H119.25M112.85 129.91V142.71M108.83 137.54H121.63M115.23 131.14V143.94M111.22 138.77H124.02M117.62 132.37V145.17M113.60 140.00H126.40M120.00 133.60V146.40" fill="none" stroke="#9400d3" stroke-width="2.5" stroke-linejoin="miter"/>
<path d="M83.10 521.00H95.90M89.50 514.60V527.40M84.79 519.92H97.59M91.19 513.52V526.32M86.48 518.85H99.28M92.88 512.45V525.25M88.18 517.77H100.98M94.58 511.37V524.17M89.87 516.69H102.67M96.27 510.29V523.09M91.56 515.62H104.36M97.96 509.22V522.02M93.25 514.54H106.05M99.65 508.14V520.94M94.95 513.46H107.75M101.35 507.06V519.86M96.64 512.38H109.44M103.04 505.98V518.78M98.33 511.31H111.13M104.73 504.91V517.71M100.02 510.23H112.82M106.42 503.83V516.63M101.72 509.15H114.52M108.12 502.75V515.55M103.41 508.08H116.21M109.81 501.68V514.48M105.10 507.00H117.90M111.50 500.60V513.40" fill="none" stroke="#9400d3" stroke-width="2.5" stroke-linejoin="miter"/>
<path d="M90.7 322.7 L113.3 326.6 L198.4 343.9 L280.2 361.2 L356.5 378.1 L432.4 398.6 L492.5 415.4 L550.8 439.0 L600.8 457.7" fill="none" stroke="#bc8f8f" stroke-width="2.6" stroke-dasharray="10.5 6.5"/>
<circle cx="90.7" cy="322.7" r="9.6" fill="#ffa500"/>
<path d="M106.90 326.60H119.70M113.30 320.20V333.00" fill="none" stroke="#9400d3" stroke-width="2.5" stroke-linejoin="miter"/>
<path d="M205.79 343.90L194.70 337.50L194.70 350.30Z" fill="none" stroke="#40e0d0" stroke-width="2.5" stroke-linejoin="miter"/>
<path d="M280.20 368.59L286.60 357.50L273.80 357.50Z" fill="none" stroke="#bc8f8f" stroke-width="2.5" stroke-linejoin="miter"/>
<path d="M349.11 378.10L360.20 371.70L360.20 384.50Z" fill="none" stroke="#670748" stroke-width="2.5" stroke-linejoin="miter"/>
<path d="M432.40 391.21L438.80 402.30L426.00 402.30Z" fill="none" stroke="#0000ff" stroke-width="2.5" stroke-linejoin="miter"/>
<path d="M492.50 409.00L498.90 415.40L492.50 421.80L486.10 415.40Z" fill="none" stroke="#008b00" stroke-width="2.5" stroke-linejoin="miter"/>
<path d="M545.36 433.56h10.88v10.88h-10.88Z" fill="none" stroke="#ff0000" stroke-width="2.5" stroke-linejoin="miter"/>
<path d="M607.20 457.70a6.4 6.4 0 1 0 -12.80 0a6.4 6.4 0 1 0 12.80 0Z" fill="none" stroke="#000000" stroke-width="2.5" stroke-linejoin="miter"/>
</g>
<path d="M90.60 575.8V556.3M90.60 41.4V60.9M294.90 575.8V556.3M294.90 41.4V60.9M499.19 575.8V556.3M499.19 41.4V60.9M703.49 575.8V556.3M703.49 41.4V60.9M907.78 575.8V556.3M907.78 41.4V60.9M192.75 575.8V566.0M192.75 41.4V51.2M397.04 575.8V566.0M397.04 41.4V51.2M601.34 575.8V566.0M601.34 41.4V51.2M805.63 575.8V566.0M805.63 41.4V51.2M90.6 575.80H110.1M989.5 575.80H970.0M90.6 442.20H110.1M989.5 442.20H970.0M90.6 308.60H110.1M989.5 308.60H970.0M90.6 175.00H110.1M989.5 175.00H970.0M90.6 41.40H110.1M989.5 41.40H970.0M90.6 509.00H100.39999999999999M989.5 509.00H979.7M90.6 375.40H100.39999999999999M989.5 375.40H979.7M90.6 241.80H100.39999999999999M989.5 241.80H979.7M90.6 108.20H100.39999999999999M989.5 108.20H979.7" stroke="#000" stroke-width="2.4" fill="none"/>
<rect x="90.6" y="41.4" width="898.90" height="534.40" fill="none" stroke="#000" stroke-width="2.5"/>
<g clip-path="url(#c2)">
<path d="M101.40 717.10a6.4 6.4 0 1 0 -12.80 0a6.4 6.4 0 1 0 12.80 0ZM117.10 719.00a6.4 6.4 0 1 0 -12.80 0a6.4 6.4 0 1 0 12.80 0ZM129.40 721.90a6.4 6.4 0 1 0 -12.80 0a6.4 6.4 0 1 0 12.80 0ZM146.50 726.10a6.4 6.4 0 1 0 -12.80 0a6.4 6.4 0 1 0 12.80 0ZM160.80 730.00a6.4 6.4 0 1 0 -12.80 0a6.4 6.4 0 1 0 12.80 0ZM173.10 732.80a6.4 6.4 0 1 0 -12.80 0a6.4 6.4 0 1 0 12.80 0ZM185.40 735.60a6.4 6.4 0 1 0 -12.80 0a6.4 6.4 0 1 0 12.80 0ZM197.90 738.50a6.4 6.4 0 1 0 -12.80 0a6.4 6.4 0 1 0 12.80 0ZM209.20 741.00a6.4 6.4 0 1 0 -12.80 0a6.4 6.4 0 1 0 12.80 0ZM220.50 744.30a6.4 6.4 0 1 0 -12.80 0a6.4 6.4 0 1 0 12.80 0ZM230.20 747.50a6.4 6.4 0 1 0 -12.80 0a6.4 6.4 0 1 0 12.80 0ZM241.50 750.80a6.4 6.4 0 1 0 -12.80 0a6.4 6.4 0 1 0 12.80 0ZM251.20 753.00a6.4 6.4 0 1 0 -12.80 0a6.4 6.4 0 1 0 12.80 0ZM260.90 755.60a6.4 6.4 0 1 0 -12.80 0a6.4 6.4 0 1 0 12.80 0ZM272.20 758.50a6.4 6.4 0 1 0 -12.80 0a6.4 6.4 0 1 0 12.80 0ZM283.60 761.80a6.4 6.4 0 1 0 -12.80 0a6.4 6.4 0 1 0 12.80 0ZM294.90 765.00a6.4 6.4 0 1 0 -12.80 0a6.4 6.4 0 1 0 12.80 0ZM307.80 768.20a6.4 6.4 0 1 0 -12.80 0a6.4 6.4 0 1 0 12.80 0ZM319.10 771.80a6.4 6.4 0 1 0 -12.80 0a6.4 6.4 0 1 0 12.80 0ZM332.00 775.00a6.4 6.4 0 1 0 -12.80 0a6.4 6.4 0 1 0 12.80 0ZM349.80 780.50a6.4 6.4 0 1 0 -12.80 0a6.4 6.4 0 1 0 12.80 0ZM364.40 784.40a6.4 6.4 0 1 0 -12.80 0a6.4 6.4 0 1 0 12.80 0ZM378.90 788.60a6.4 6.4 0 1 0 -12.80 0a6.4 6.4 0 1 0 12.80 0ZM395.00 793.30a6.4 6.4 0 1 0 -12.80 0a6.4 6.4 0 1 0 12.80 0ZM411.20 798.00a6.4 6.4 0 1 0 -12.80 0a6.4 6.4 0 1 0 12.80 0ZM426.30 802.20a6.4 6.4 0 1 0 -12.80 0a6.4 6.4 0 1 0 12.80 0ZM441.20 806.50a6.4 6.4 0 1 0 -12.80 0a6.4 6.4 0 1 0 12.80 0ZM455.70 810.80a6.4 6.4 0 1 0 -12.80 0a6.4 6.4 0 1 0 12.80 0ZM469.70 814.70a6.4 6.4 0 1 0 -12.80 0a6.4 6.4 0 1 0 12.80 0ZM482.60 818.20a6.4 6.4 0 1 0 -12.80 0a6.4 6.4 0 1 0 12.80 0ZM495.10 821.60a6.4 6.4 0 1 0 -12.80 0a6.4 6.4 0 1 0 12.80 0ZM507.00 825.30a6.4 6.4 0 1 0 -12.80 0a6.4 6.4 0 1 0 12.80 0ZM520.20 828.30a6.4 6.4 0 1 0 -12.80 0a6.4 6.4 0 1 0 12.80 0Z" fill="none" stroke="#000000" stroke-width="2.5" stroke-linejoin="miter"/>
<path d="M108.40 1198.10a6.4 6.4 0 1 0 -12.80 0a6.4 6.4 0 1 0 12.80 0ZM175.30 1196.00a6.4 6.4 0 1 0 -12.80 0a6.4 6.4 0 1 0 12.80 0ZM217.10 1193.90a6.4 6.4 0 1 0 -12.80 0a6.4 6.4 0 1 0 12.80 0ZM278.80 1190.80a6.4 6.4 0 1 0 -12.80 0a6.4 6.4 0 1 0 12.80 0ZM331.60 1187.70a6.4 6.4 0 1 0 -12.80 0a6.4 6.4 0 1 0 12.80 0ZM385.10 1184.50a6.4 6.4 0 1 0 -12.80 0a6.4 6.4 0 1 0 12.80 0ZM442.40 1179.70a6.4 6.4 0 1 0 -12.80 0a6.4 6.4 0 1 0 12.80 0ZM494.10 1175.50a6.4 6.4 0 1 0 -12.80 0a6.4 6.4 0 1 0 12.80 0ZM547.40 1170.00a6.4 6.4 0 1 0 -12.80 0a6.4 6.4 0 1 0 12.80 0ZM594.30 1165.10a6.4 6.4 0 1 0 -12.80 0a6.4 6.4 0 1 0 12.80 0ZM638.50 1159.30a6.4 6.4 0 1 0 -12.80 0a6.4 6.4 0 1 0 12.80 0ZM682.70 1152.60a6.4 6.4 0 1 0 -12.80 0a6.4 6.4 0 1 0 12.80 0ZM719.70 1146.00a6.4 6.4 0 1 0 -12.80 0a6.4 6.4 0 1 0 12.80 0ZM751.90 1139.20a6.4 6.4 0 1 0 -12.80 0a6.4 6.4 0 1 0 12.80 0ZM784.70 1132.00a6.4 6.4 0 1 0 -12.80 0a6.4 6.4 0 1 0 12.80 0ZM814.10 1124.90a6.4 6.4 0 1 0 -12.80 0a6.4 6.4 0 1 0 12.80 0ZM836.90 1117.50a6.4 6.4 0 1 0 -12.80 0a6.4 6.4 0 1 0 12.80 0ZM857.40 1109.20a6.4 6.4 0 1 0 -12.80 0a6.4 6.4 0 1 0 12.80 0ZM875.00 1099.50a6.4 6.4 0 1 0 -12.80 0a6.4 6.4 0 1 0 12.80 0ZM889.70 1092.20a6.4 6.4 0 1 0 -12.80 0a6.4 6.4 0 1 0 12.80 0ZM902.50 1083.70a6.4 6.4 0 1 0 -12.80 0a6.4 6.4 0 1 0 12.80 0ZM911.60 1075.60a6.4 6.4 0 1 0 -12.80 0a6.4 6.4 0 1 0 12.80 0ZM917.70 1066.10a6.4 6.4 0 1 0 -12.80 0a6.4 6.4 0 1 0 12.80 0ZM922.50 1057.00a6.4 6.4 0 1 0 -12.80 0a6.4 6.4 0 1 0 12.80 0ZM924.10 1048.50a6.4 6.4 0 1 0 -12.80 0a6.4 6.4 0 1 0 12.80 0ZM923.90 1040.00a6.4 6.4 0 1 0 -12.80 0a6.4 6.4 0 1 0 12.80 0ZM923.00 1030.40a6.4 6.4 0 1 0 -12.80 0a6.4 6.4 0 1 0 12.80 0Z" fill="none" stroke="#000000" stroke-width="2.5" stroke-linejoin="miter"/>
<path d="M85.56 717.86h10.88v10.88h-10.88ZM88.30 717.73h10.88v10.88h-10.88ZM91.04 717.54h10.88v10.88h-10.88ZM93.78 717.41h10.88v10.88h-10.88ZM96.52 717.37h10.88v10.88h-10.88ZM99.26 717.46h10.88v10.88h-10.88ZM101.99 717.69h10.88v10.88h-10.88ZM104.71 718.09h10.88v10.88h-10.88ZM107.40 718.61h10.88v10.88h-10.88ZM110.08 719.19h10.88v10.88h-10.88ZM112.75 719.82h10.88v10.88h-10.88ZM115.40 720.51h10.88v10.88h-10.88ZM118.05 721.24h10.88v10.88h-10.88ZM120.68 722.00h10.88v10.88h-10.88ZM123.31 722.79h10.88v10.88h-10.88ZM125.92 723.62h10.88v10.88h-10.88ZM128.53 724.48h10.88v10.88h-10.88ZM131.13 725.36h10.88v10.88h-10.88ZM133.72 726.26h10.88v10.88h-10.88ZM136.30 727.19h10.88v10.88h-10.88ZM138.86 728.17h10.88v10.88h-10.88ZM141.40 729.20h10.88v10.88h-10.88ZM143.93 730.27h10.88v10.88h-10.88ZM146.44 731.37h10.88v10.88h-10.88ZM148.95 732.48h10.88v10.88h-10.88ZM151.46 733.59h10.88v10.88h-10.88ZM153.97 734.69h10.88v10.88h-10.88ZM156.49 735.77h10.88v10.88h-10.88ZM159.02 736.84h10.88v10.88h-10.88ZM161.55 737.89h10.88v10.88h-10.88ZM164.09 738.92h10.88v10.88h-10.88ZM166.64 739.95h10.88v10.88h-10.88ZM169.19 740.96h10.88v10.88h-10.88ZM171.74 741.97h10.88v10.88h-10.88ZM174.30 742.96h10.88v10.88h-10.88ZM176.86 743.94h10.88v10.88h-10.88ZM179.42 744.93h10.88v10.88h-10.88ZM181.98 745.91h10.88v10.88h-10.88ZM184.54 746.88h10.88v10.88h-10.88ZM187.11 747.86h10.88v10.88h-10.88ZM189.67 748.83h10.88v10.88h-10.88ZM192.24 749.80h10.88v10.88h-10.88ZM194.80 750.77h10.88v10.88h-10.88ZM197.37 751.74h10.88v10.88h-10.88ZM199.93 752.71h10.88v10.88h-10.88ZM202.50 753.68h10.88v10.88h-10.88ZM205.07 754.65h10.88v10.88h-10.88ZM207.64 755.61h10.88v10.88h-10.88ZM210.20 756.58h10.88v10.88h-10.88ZM212.77 757.54h10.88v10.88h-10.88ZM215.34 758.51h10.88v10.88h-10.88ZM217.91 759.47h10.88v10.88h-10.88ZM220.48 760.43h10.88v10.88h-10.88ZM223.04 761.40h10.88v10.88h-10.88ZM225.61 762.36h10.88v10.88h-10.88ZM228.18 763.32h10.88v10.88h-10.88ZM230.75 764.28h10.88v10.88h-10.88ZM233.32 765.25h10.88v10.88h-10.88ZM235.89 766.21h10.88v10.88h-10.88ZM238.46 767.17h10.88v10.88h-10.88ZM241.03 768.13h10.88v10.88h-10.88ZM243.60 769.09h10.88v10.88h-10.88ZM246.16 770.05h10.88v10.88h-10.88ZM248.73 771.01h10.88v10.88h-10.88ZM251.30 771.97h10.88v10.88h-10.88ZM253.87 772.94h10.88v10.88h-10.88ZM256.44 773.90h10.88v10.88h-10.88ZM259.01 774.86h10.88v10.88h-10.88ZM261.58 775.82h10.88v10.88h-10.88ZM264.15 776.78h10.88v10.88h-10.88ZM266.72 777.74h10.88v10.88h-10.88ZM269.29 778.71h10.88v10.88h-10.88ZM271.85 779.67h10.88v10.88h-10.88ZM274.42 780.63h10.88v10.88h-10.88ZM276.99 781.59h10.88v10.88h-10.88ZM279.56 782.56h10.88v10.88h-10.88ZM282.13 783.52h10.88v10.88h-10.88ZM284.70 784.49h10.88v10.88h-10.88ZM287.26 785.45h10.88v10.88h-10.88ZM289.83 786.42h10.88v10.88h-10.88ZM292.40 787.38h10.88v10.88h-10.88ZM294.97 788.34h10.88v10.88h-10.88ZM297.54 789.31h10.88v10.88h-10.88ZM300.10 790.27h10.88v10.88h-10.88ZM302.67 791.24h10.88v10.88h-10.88ZM305.24 792.20h10.88v10.88h-10.88ZM307.81 793.16h10.88v10.88h-10.88ZM310.38 794.13h10.88v10.88h-10.88ZM312.94 795.09h10.88v10.88h-10.88ZM315.51 796.06h10.88v10.88h-10.88ZM318.08 797.02h10.88v10.88h-10.88ZM320.65 797.98h10.88v10.88h-10.88ZM323.22 798.95h10.88v10.88h-10.88ZM325.78 799.91h10.88v10.88h-10.88ZM328.35 800.87h10.88v10.88h-10.88ZM330.92 801.84h10.88v10.88h-10.88ZM333.49 802.80h10.88v10.88h-10.88ZM336.06 803.77h10.88v10.88h-10.88ZM338.63 804.73h10.88v10.88h-10.88ZM341.19 805.69h10.88v10.88h-10.88ZM343.76 806.66h10.88v10.88h-10.88ZM346.33 807.62h10.88v10.88h-10.88ZM348.90 808.58h10.88v10.88h-10.88ZM351.47 809.55h10.88v10.88h-10.88ZM354.04 810.51h10.88v10.88h-10.88ZM356.60 811.47h10.88v10.88h-10.88ZM359.17 812.44h10.88v10.88h-10.88ZM361.74 813.40h10.88v10.88h-10.88ZM364.31 814.36h10.88v10.88h-10.88ZM366.88 815.33h10.88v10.88h-10.88ZM369.45 816.29h10.88v10.88h-10.88ZM372.01 817.25h10.88v10.88h-10.88ZM374.58 818.22h10.88v10.88h-10.88ZM377.15 819.18h10.88v10.88h-10.88ZM379.72 820.14h10.88v10.88h-10.88ZM382.29 821.11h10.88v10.88h-10.88ZM384.86 822.07h10.88v10.88h-10.88ZM387.42 823.03h10.88v10.88h-10.88ZM389.99 824.00h10.88v10.88h-10.88ZM392.56 824.96h10.88v10.88h-10.88Z" fill="none" stroke="#ff0000" stroke-width="2.5" stroke-linejoin="miter"/>
<path d="M85.56 1185.56h10.88v10.88h-10.88ZM90.75 1185.13h10.88v10.88h-10.88ZM95.88 1184.72h10.88v10.88h-10.88ZM100.96 1184.31h10.88v10.88h-10.88ZM105.97 1183.92h10.88v10.88h-10.88ZM110.94 1183.53h10.88v10.88h-10.88ZM115.85 1183.15h10.88v10.88h-10.88ZM120.71 1182.77h10.88v10.88h-10.88ZM125.53 1182.39h10.88v10.88h-10.88ZM130.29 1182.01h10.88v10.88h-10.88ZM135.01 1181.64h10.88v10.88h-10.88ZM139.68 1181.27h10.88v10.88h-10.88ZM144.31 1180.89h10.88v10.88h-10.88ZM148.89 1180.52h10.88v10.88h-10.88ZM153.43 1180.14h10.88v10.88h-10.88ZM157.93 1179.77h10.88v10.88h-10.88ZM162.39 1179.40h10.88v10.88h-10.88ZM166.82 1179.02h10.88v10.88h-10.88ZM171.20 1178.64h10.88v10.88h-10.88ZM175.55 1178.26h10.88v10.88h-10.88ZM179.86 1177.88h10.88v10.88h-10.88ZM184.13 1177.50h10.88v10.88h-10.88ZM188.37 1177.11h10.88v10.88h-10.88ZM192.58 1176.72h10.88v10.88h-10.88ZM196.75 1176.32h10.88v10.88h-10.88ZM200.89 1175.92h10.88v10.88h-10.88ZM205.00 1175.52h10.88v10.88h-10.88ZM209.08 1175.11h10.88v10.88h-10.88ZM213.13 1174.69h10.88v10.88h-10.88ZM217.15 1174.26h10.88v10.88h-10.88ZM221.14 1173.83h10.88v10.88h-10.88ZM225.10 1173.39h10.88v10.88h-10.88ZM229.03 1172.95h10.88v10.88h-10.88ZM232.94 1172.51h10.88v10.88h-10.88ZM236.82 1172.07h10.88v10.88h-10.88ZM240.67 1171.63h10.88v10.88h-10.88ZM244.50 1171.18h10.88v10.88h-10.88ZM248.30 1170.74h10.88v10.88h-10.88ZM252.09 1170.29h10.88v10.88h-10.88ZM255.84 1169.84h10.88v10.88h-10.88ZM259.58 1169.39h10.88v10.88h-10.88ZM263.29 1168.94h10.88v10.88h-10.88ZM266.98 1168.48h10.88v10.88h-10.88ZM270.64 1168.03h10.88v10.88h-10.88ZM274.29 1167.57h10.88v10.88h-10.88ZM277.92 1167.12h10.88v10.88h-10.88ZM281.52 1166.66h10.88v10.88h-10.88ZM285.10 1166.20h10.88v10.88h-10.88ZM288.67 1165.75h10.88v10.88h-10.88ZM292.21 1165.29h10.88v10.88h-10.88ZM295.74 1164.83h10.88v10.88h-10.88ZM299.25 1164.36h10.88v10.88h-10.88ZM302.74 1163.90h10.88v10.88h-10.88ZM306.21 1163.44h10.88v10.88h-10.88ZM309.66 1162.97h10.88v10.88h-10.88ZM313.10 1162.51h10.88v10.88h-10.88ZM316.52 1162.04h10.88v10.88h-10.88ZM319.92 1161.57h10.88v10.88h-10.88ZM323.31 1161.10h10.88v10.88h-10.88ZM326.68 1160.63h10.88v10.88h-10.88ZM330.03 1160.16h10.88v10.88h-10.88ZM333.37 1159.68h10.88v10.88h-10.88ZM336.69 1159.20h10.88v10.88h-10.88ZM340.00 1158.73h10.88v10.88h-10.88ZM343.29 1158.24h10.88v10.88h-10.88ZM346.57 1157.76h10.88v10.88h-10.88ZM349.83 1157.27h10.88v10.88h-10.88ZM353.08 1156.78h10.88v10.88h-10.88ZM356.32 1156.29h10.88v10.88h-10.88ZM359.54 1155.79h10.88v10.88h-10.88ZM362.74 1155.28h10.88v10.88h-10.88ZM365.93 1154.77h10.88v10.88h-10.88ZM369.11 1154.25h10.88v10.88h-10.88ZM372.28 1153.72h10.88v10.88h-10.88ZM375.43 1153.18h10.88v10.88h-10.88ZM378.56 1152.64h10.88v10.88h-10.88ZM381.69 1152.10h10.88v10.88h-10.88ZM384.80 1151.54h10.88v10.88h-10.88ZM387.89 1150.98h10.88v10.88h-10.88ZM390.98 1150.42h10.88v10.88h-10.88ZM394.05 1149.85h10.88v10.88h-10.88ZM397.11 1149.27h10.88v10.88h-10.88ZM400.16 1148.69h10.88v10.88h-10.88ZM403.20 1148.11h10.88v10.88h-10.88ZM406.22 1147.53h10.88v10.88h-10.88ZM409.24 1146.94h10.88v10.88h-10.88ZM412.24 1146.35h10.88v10.88h-10.88ZM415.24 1145.76h10.88v10.88h-10.88ZM418.22 1145.16h10.88v10.88h-10.88ZM421.19 1144.57h10.88v10.88h-10.88ZM424.16 1143.98h10.88v10.88h-10.88ZM427.11 1143.38h10.88v10.88h-10.88ZM430.06 1142.79h10.88v10.88h-10.88ZM432.99 1142.21h10.88v10.88h-10.88ZM435.92 1141.62h10.88v10.88h-10.88ZM438.84 1141.04h10.88v10.88h-10.88ZM441.75 1140.47h10.88v10.88h-10.88ZM444.66 1139.90h10.88v10.88h-10.88ZM447.55 1139.33h10.88v10.88h-10.88ZM450.44 1138.77h10.88v10.88h-10.88ZM453.32 1138.22h10.88v10.88h-10.88ZM456.20 1137.68h10.88v10.88h-10.88ZM459.07 1137.15h10.88v10.88h-10.88ZM461.93 1136.63h10.88v10.88h-10.88ZM464.79 1136.12h10.88v10.88h-10.88ZM467.63 1135.61h10.88v10.88h-10.88ZM470.48 1135.11h10.88v10.88h-10.88ZM473.31 1134.61h10.88v10.88h-10.88ZM476.14 1134.11h10.88v10.88h-10.88ZM478.96 1133.62h10.88v10.88h-10.88ZM481.78 1133.13h10.88v10.88h-10.88ZM484.58 1132.63h10.88v10.88h-10.88ZM487.38 1132.14h10.88v10.88h-10.88ZM490.17 1131.64h10.88v10.88h-10.88ZM492.96 1131.14h10.88v10.88h-10.88ZM495.73 1130.63h10.88v10.88h-10.88ZM498.50 1130.12h10.88v10.88h-10.88ZM501.26 1129.60h10.88v10.88h-10.88ZM504.01 1129.07h10.88v10.88h-10.88ZM506.76 1128.53h10.88v10.88h-10.88ZM509.49 1127.97h10.88v10.88h-10.88ZM512.22 1127.41h10.88v10.88h-10.88ZM514.93 1126.83h10.88v10.88h-10.88ZM517.64 1126.23h10.88v10.88h-10.88ZM520.33 1125.61h10.88v10.88h-10.88ZM523.02 1124.97h10.88v10.88h-10.88ZM525.69 1124.32h10.88v10.88h-10.88ZM528.35 1123.64h10.88v10.88h-10.88ZM531.00 1122.93h10.88v10.88h-10.88ZM533.64 1122.20h10.88v10.88h-10.88ZM536.27 1121.45h10.88v10.88h-10.88ZM538.88 1120.68h10.88v10.88h-10.88ZM541.48 1119.88h10.88v10.88h-10.88ZM544.07 1119.07h10.88v10.88h-10.88ZM546.65 1118.24h10.88v10.88h-10.88ZM549.22 1117.39h10.88v10.88h-10.88ZM551.77 1116.53h10.88v10.88h-10.88ZM554.32 1115.65h10.88v10.88h-10.88ZM556.85 1114.75h10.88v10.88h-10.88ZM559.38 1113.84h10.88v10.88h-10.88ZM561.89 1112.92h10.88v10.88h-10.88ZM564.40 1111.98h10.88v10.88h-10.88ZM566.89 1111.03h10.88v10.88h-10.88ZM569.37 1110.07h10.88v10.88h-10.88ZM571.85 1109.09h10.88v10.88h-10.88ZM574.31 1108.11h10.88v10.88h-10.88ZM576.77 1107.11h10.88v10.88h-10.88ZM579.21 1106.09h10.88v10.88h-10.88ZM581.65 1105.07h10.88v10.88h-10.88ZM584.07 1104.04h10.88v10.88h-10.88ZM586.49 1102.99h10.88v10.88h-10.88ZM588.89 1101.93h10.88v10.88h-10.88ZM591.29 1100.86h10.88v10.88h-10.88ZM593.67 1099.78h10.88v10.88h-10.88ZM596.05 1098.68h10.88v10.88h-10.88ZM598.41 1097.57h10.88v10.88h-10.88ZM600.75 1096.42h10.88v10.88h-10.88ZM603.06 1095.22h10.88v10.88h-10.88ZM605.34 1093.97h10.88v10.88h-10.88ZM607.59 1092.68h10.88v10.88h-10.88ZM609.80 1091.33h10.88v10.88h-10.88ZM611.98 1089.93h10.88v10.88h-10.88ZM614.12 1088.48h10.88v10.88h-10.88ZM616.22 1086.98h10.88v10.88h-10.88ZM618.30 1085.46h10.88v10.88h-10.88ZM620.35 1083.91h10.88v10.88h-10.88ZM622.39 1082.35h10.88v10.88h-10.88ZM624.43 1080.79h10.88v10.88h-10.88ZM626.48 1079.26h10.88v10.88h-10.88ZM628.55 1077.76h10.88v10.88h-10.88ZM630.64 1076.28h10.88v10.88h-10.88ZM632.71 1074.79h10.88v10.88h-10.88ZM634.76 1073.28h10.88v10.88h-10.88ZM636.80 1071.76h10.88v10.88h-10.88ZM638.83 1070.22h10.88v10.88h-10.88ZM640.84 1068.68h10.88v10.88h-10.88ZM642.85 1067.14h10.88v10.88h-10.88ZM644.85 1065.58h10.88v10.88h-10.88ZM646.85 1064.03h10.88v10.88h-10.88ZM648.83 1062.47h10.88v10.88h-10.88ZM650.82 1060.91h10.88v10.88h-10.88ZM652.79 1059.35h10.88v10.88h-10.88ZM654.77 1057.80h10.88v10.88h-10.88ZM656.76 1056.26h10.88v10.88h-10.88Z" fill="none" stroke="#ff0000" stroke-width="2.5" stroke-linejoin="miter"/>
<path d="M91.00 726.90L97.40 733.30L91.00 739.70L84.60 733.30ZM93.55 727.12L99.95 733.52L93.55 739.92L87.15 733.52ZM96.11 727.27L102.51 733.67L96.11 740.07L89.71 733.67ZM98.67 727.42L105.07 733.82L98.67 740.22L92.27 733.82ZM101.23 727.57L107.63 733.97L101.23 740.37L94.83 733.97ZM103.78 727.74L110.18 734.14L103.78 740.54L97.38 734.14ZM106.34 727.95L112.74 734.35L106.34 740.75L99.94 734.35ZM108.89 728.19L115.29 734.59L108.89 740.99L102.49 734.59ZM111.44 728.47L117.84 734.87L111.44 741.27L105.04 734.87ZM113.98 728.81L120.38 735.21L113.98 741.61L107.58 735.21ZM116.51 729.20L122.91 735.60L116.51 742.00L110.11 735.60ZM119.03 729.67L125.43 736.07L119.03 742.47L112.63 736.07ZM121.53 730.22L127.93 736.62L121.53 743.02L115.13 736.62ZM124.01 730.88L130.41 737.28L124.01 743.68L117.61 737.28ZM126.46 731.62L132.86 738.02L126.46 744.42L120.06 738.02ZM128.90 732.41L135.30 738.81L128.90 745.21L122.50 738.81ZM131.31 733.26L137.71 739.66L131.31 746.06L124.91 739.66ZM133.72 734.16L140.12 740.56L133.72 746.96L127.32 740.56ZM136.10 735.09L142.50 741.49L136.10 747.89L129.70 741.49ZM138.48 736.05L144.88 742.45L138.48 748.85L132.08 742.45ZM140.84 737.04L147.24 743.44L140.84 749.84L134.44 743.44ZM143.19 738.06L149.59 744.46L143.19 750.86L136.79 744.46ZM145.54 739.09L151.94 745.49L145.54 751.89L139.14 745.49ZM147.88 740.13L154.28 746.53L147.88 752.93L141.48 746.53ZM150.22 741.18L156.62 747.58L150.22 753.98L143.82 747.58ZM152.55 742.23L158.95 748.63L152.55 755.03L146.15 748.63ZM154.89 743.29L161.29 749.69L154.89 756.09L148.49 749.69ZM157.22 744.35L163.62 750.75L157.22 757.15L150.82 750.75ZM159.56 745.40L165.96 751.80L159.56 758.20L153.16 751.80ZM161.89 746.46L168.29 752.86L161.89 759.26L155.49 752.86ZM164.22 747.53L170.62 753.93L164.22 760.33L157.82 753.93ZM166.54 748.61L172.94 755.01L166.54 761.41L160.14 755.01ZM168.86 749.72L175.26 756.12L168.86 762.52L162.46 756.12ZM171.16 750.84L177.56 757.24L171.16 763.64L164.76 757.24ZM173.46 751.97L179.86 758.37L173.46 764.77L167.06 758.37ZM175.76 753.11L182.16 759.51L175.76 765.91L169.36 759.51ZM178.05 754.25L184.45 760.65L178.05 767.05L171.65 760.65ZM180.34 755.40L186.74 761.80L180.34 768.20L173.94 761.80ZM182.63 756.55L189.03 762.95L182.63 769.35L176.23 762.95ZM184.92 757.69L191.32 764.09L184.92 770.49L178.52 764.09ZM187.22 758.83L193.62 765.23L187.22 771.63L180.82 765.23ZM189.51 759.97L195.91 766.37L189.51 772.77L183.11 766.37ZM191.81 761.11L198.21 767.51L191.81 773.91L185.41 767.51ZM194.11 762.24L200.51 768.64L194.11 775.04L187.71 768.64ZM196.41 763.36L202.81 769.76L196.41 776.16L190.01 769.76ZM198.72 764.48L205.12 770.88L198.72 777.28L192.32 770.88ZM201.03 765.59L207.43 771.99L201.03 778.39L194.63 771.99ZM203.34 766.71L209.74 773.11L203.34 779.51L196.94 773.11ZM205.64 767.82L212.04 774.22L205.64 780.62L199.24 774.22ZM207.95 768.93L214.35 775.33L207.95 781.73L201.55 775.33ZM210.26 770.04L216.66 776.44L210.26 782.84L203.86 776.44ZM212.57 771.15L218.97 777.55L212.57 783.95L206.17 777.55ZM214.89 772.25L221.29 778.65L214.89 785.05L208.49 778.65ZM217.20 773.36L223.60 779.76L217.20 786.16L210.80 779.76ZM219.51 774.47L225.91 780.87L219.51 787.27L213.11 780.87ZM221.82 775.58L228.22 781.98L221.82 788.38L215.42 781.98ZM224.13 776.68L230.53 783.08L224.13 789.48L217.73 783.08ZM226.44 777.79L232.84 784.19L226.44 790.59L220.04 784.19ZM228.75 778.89L235.15 785.29L228.75 791.69L222.35 785.29ZM231.06 780.00L237.46 786.40L231.06 792.80L224.66 786.40ZM233.38 781.11L239.78 787.51L233.38 793.91L226.98 787.51ZM235.69 782.21L242.09 788.61L235.69 795.01L229.29 788.61ZM238.00 783.32L244.40 789.72L238.00 796.12L231.60 789.72ZM240.31 784.43L246.71 790.83L240.31 797.23L233.91 790.83ZM242.62 785.53L249.02 791.93L242.62 798.33L236.22 791.93ZM244.93 786.64L251.33 793.04L244.93 799.44L238.53 793.04ZM247.24 787.74L253.64 794.14L247.24 800.54L240.84 794.14ZM249.56 788.85L255.96 795.25L249.56 801.65L243.16 795.25ZM251.87 789.96L258.27 796.36L251.87 802.76L245.47 796.36ZM254.18 791.06L260.58 797.46L254.18 803.86L247.78 797.46ZM256.49 792.17L262.89 798.57L256.49 804.97L250.09 798.57ZM258.80 793.28L265.20 799.68L258.80 806.08L252.40 799.68ZM261.11 794.39L267.51 800.79L261.11 807.19L254.71 800.79ZM263.42 795.50L269.82 801.90L263.42 808.30L257.02 801.90ZM265.73 796.61L272.13 803.01L265.73 809.41L259.33 803.01ZM268.04 797.72L274.44 804.12L268.04 810.52L261.64 804.12ZM270.35 798.83L276.75 805.23L270.35 811.63L263.95 805.23ZM272.66 799.94L279.06 806.34L272.66 812.74L266.26 806.34ZM274.97 801.05L281.37 807.45L274.97 813.85L268.57 807.45ZM277.28 802.16L283.68 808.56L277.28 814.96L270.88 808.56ZM279.59 803.27L285.99 809.67L279.59 816.07L273.19 809.67ZM281.89 804.38L288.29 810.78L281.89 817.18L275.49 810.78ZM284.20 805.50L290.60 811.90L284.20 818.30L277.80 811.90ZM286.51 806.61L292.91 813.01L286.51 819.41L280.11 813.01ZM288.82 807.72L295.22 814.12L288.82 820.52L282.42 814.12ZM291.13 808.84L297.53 815.24L291.13 821.64L284.73 815.24ZM293.43 809.95L299.83 816.35L293.43 822.75L287.03 816.35ZM295.74 811.07L302.14 817.47L295.74 823.87L289.34 817.47ZM298.05 812.18L304.45 818.58L298.05 824.98L291.65 818.58ZM300.36 813.29L306.76 819.69L300.36 826.09L293.96 819.69ZM302.66 814.41L309.06 820.81L302.66 827.21L296.26 820.81ZM304.97 815.52L311.37 821.92L304.97 828.32L298.57 821.92ZM307.28 816.64L313.68 823.04L307.28 829.44L300.88 823.04ZM309.59 817.75L315.99 824.15L309.59 830.55L303.19 824.15ZM311.89 818.87L318.29 825.27L311.89 831.67L305.49 825.27ZM314.20 819.98L320.60 826.38L314.20 832.78L307.80 826.38ZM316.51 821.10L322.91 827.50L316.51 833.90L310.11 827.50ZM318.82 822.21L325.22 828.61L318.82 835.01L312.42 828.61ZM321.12 823.33L327.52 829.73L321.12 836.13L314.72 829.73ZM323.43 824.45L329.83 830.85L323.43 837.25L317.03 830.85ZM325.74 825.56L332.14 831.96L325.74 838.36L319.34 831.96ZM328.04 826.68L334.44 833.08L328.04 839.48L321.64 833.08ZM330.35 827.79L336.75 834.19L330.35 840.59L323.95 834.19ZM332.66 828.91L339.06 835.31L332.66 841.71L326.26 835.31ZM334.96 830.02L341.36 836.42L334.96 842.82L328.56 836.42ZM337.27 831.14L343.67 837.54L337.27 843.94L330.87 837.54ZM339.58 832.25L345.98 838.65L339.58 845.05L333.18 838.65ZM341.89 833.37L348.29 839.77L341.89 846.17L335.49 839.77ZM344.19 834.49L350.59 840.89L344.19 847.29L337.79 840.89ZM346.50 835.60L352.90 842.00L346.50 848.40L340.10 842.00Z" fill="none" stroke="#008b00" stroke-width="2.5" stroke-linejoin="miter"/>
<path d="M91.00 1174.60L97.40 1181.00L91.00 1187.40L84.60 1181.00ZM97.47 1173.75L103.87 1180.15L97.47 1186.55L91.07 1180.15ZM103.76 1172.94L110.16 1179.34L103.76 1185.74L97.36 1179.34ZM109.89 1172.16L116.29 1178.56L109.89 1184.96L103.49 1178.56ZM115.87 1171.39L122.27 1177.79L115.87 1184.19L109.47 1177.79ZM121.71 1170.63L128.11 1177.03L121.71 1183.43L115.31 1177.03ZM127.42 1169.88L133.82 1176.28L127.42 1182.68L121.02 1176.28ZM133.00 1169.15L139.40 1175.55L133.00 1181.95L126.60 1175.55ZM138.47 1168.42L144.87 1174.82L138.47 1181.22L132.07 1174.82ZM143.82 1167.69L150.22 1174.09L143.82 1180.49L137.42 1174.09ZM149.06 1166.97L155.46 1173.37L149.06 1179.77L142.66 1173.37ZM154.20 1166.24L160.60 1172.64L154.20 1179.04L147.80 1172.64ZM159.25 1165.52L165.65 1171.92L159.25 1178.32L152.85 1171.92ZM164.21 1164.79L170.61 1171.19L164.21 1177.59L157.81 1171.19ZM169.08 1164.06L175.48 1170.46L169.08 1176.86L162.68 1170.46ZM173.87 1163.34L180.27 1169.74L173.87 1176.14L167.47 1169.74ZM178.58 1162.62L184.98 1169.02L178.58 1175.42L172.18 1169.02ZM183.22 1161.91L189.62 1168.31L183.22 1174.71L176.82 1168.31ZM187.79 1161.20L194.19 1167.60L187.79 1174.00L181.39 1167.60ZM192.29 1160.49L198.69 1166.89L192.29 1173.29L185.89 1166.89ZM196.73 1159.79L203.13 1166.19L196.73 1172.59L190.33 1166.19ZM201.10 1159.09L207.50 1165.49L201.10 1171.89L194.70 1165.49ZM205.42 1158.40L211.82 1164.80L205.42 1171.20L199.02 1164.80ZM209.68 1157.70L216.08 1164.10L209.68 1170.50L203.28 1164.10ZM213.88 1157.01L220.28 1163.41L213.88 1169.81L207.48 1163.41ZM218.04 1156.32L224.44 1162.72L218.04 1169.12L211.64 1162.72ZM222.14 1155.63L228.54 1162.03L222.14 1168.43L215.74 1162.03ZM226.19 1154.95L232.59 1161.35L226.19 1167.75L219.79 1161.35ZM230.20 1154.26L236.60 1160.66L230.20 1167.06L223.80 1160.66ZM234.16 1153.58L240.56 1159.98L234.16 1166.38L227.76 1159.98ZM238.09 1152.89L244.49 1159.29L238.09 1165.69L231.69 1159.29ZM241.96 1152.21L248.36 1158.61L241.96 1165.01L235.56 1158.61ZM245.80 1151.53L252.20 1157.93L245.80 1164.33L239.40 1157.93ZM249.60 1150.85L256.00 1157.25L249.60 1163.65L243.20 1157.25ZM253.37 1150.17L259.77 1156.57L253.37 1162.97L246.97 1156.57ZM257.10 1149.51L263.50 1155.91L257.10 1162.31L250.70 1155.91ZM260.79 1148.85L267.19 1155.25L260.79 1161.65L254.39 1155.25ZM264.46 1148.21L270.86 1154.61L264.46 1161.01L258.06 1154.61ZM268.09 1147.56L274.49 1153.96L268.09 1160.36L261.69 1153.96ZM271.69 1146.93L278.09 1153.33L271.69 1159.73L265.29 1153.33ZM275.27 1146.30L281.67 1152.70L275.27 1159.10L268.87 1152.70ZM278.81 1145.67L285.21 1152.07L278.81 1158.47L272.41 1152.07ZM282.33 1145.05L288.73 1151.45L282.33 1157.85L275.93 1151.45ZM285.81 1144.43L292.21 1150.83L285.81 1157.23L279.41 1150.83ZM289.28 1143.81L295.68 1150.21L289.28 1156.61L282.88 1150.21ZM292.71 1143.20L299.11 1149.60L292.71 1156.00L286.31 1149.60ZM296.13 1142.59L302.53 1148.99L296.13 1155.39L289.73 1148.99ZM299.51 1141.97L305.91 1148.37L299.51 1154.77L293.11 1148.37ZM302.88 1141.36L309.28 1147.76L302.88 1154.16L296.48 1147.76ZM306.22 1140.75L312.62 1147.15L306.22 1153.55L299.82 1147.15ZM309.53 1140.13L315.93 1146.53L309.53 1152.93L303.13 1146.53ZM312.83 1139.52L319.23 1145.92L312.83 1152.32L306.43 1145.92ZM316.10 1138.90L322.50 1145.30L316.10 1151.70L309.70 1145.30ZM319.36 1138.28L325.76 1144.68L319.36 1151.08L312.96 1144.68ZM322.59 1137.66L328.99 1144.06L322.59 1150.46L316.19 1144.06ZM325.80 1137.03L332.20 1143.43L325.80 1149.83L319.40 1143.43ZM329.00 1136.40L335.40 1142.80L329.00 1149.20L322.60 1142.80ZM332.17 1135.77L338.57 1142.17L332.17 1148.57L325.77 1142.17ZM335.32 1135.13L341.72 1141.53L335.32 1147.93L328.92 1141.53ZM338.46 1134.48L344.86 1140.88L338.46 1147.28L332.06 1140.88ZM341.57 1133.82L347.97 1140.22L341.57 1146.62L335.17 1140.22ZM344.67 1133.16L351.07 1139.56L344.67 1145.96L338.27 1139.56ZM347.75 1132.48L354.15 1138.88L347.75 1145.28L341.35 1138.88ZM350.81 1131.79L357.21 1138.19L350.81 1144.59L344.41 1138.19ZM353.85 1131.09L360.25 1137.49L353.85 1143.89L347.45 1137.49ZM356.88 1130.37L363.28 1136.77L356.88 1143.17L350.48 1136.77ZM359.88 1129.63L366.28 1136.03L359.88 1142.43L353.48 1136.03ZM362.86 1128.88L369.26 1135.28L362.86 1141.68L356.46 1135.28ZM365.83 1128.11L372.23 1134.51L365.83 1140.91L359.43 1134.51ZM368.78 1127.34L375.18 1133.74L368.78 1140.14L362.38 1133.74ZM371.72 1126.55L378.12 1132.95L371.72 1139.35L365.32 1132.95ZM374.64 1125.75L381.04 1132.15L374.64 1138.55L368.24 1132.15ZM377.54 1124.94L383.94 1131.34L377.54 1137.74L371.14 1131.34ZM380.43 1124.11L386.83 1130.51L380.43 1136.91L374.03 1130.51ZM383.29 1123.25L389.69 1129.65L383.29 1136.05L376.89 1129.65ZM386.14 1122.37L392.54 1128.77L386.14 1135.17L379.74 1128.77ZM388.97 1121.47L395.37 1127.87L388.97 1134.27L382.57 1127.87ZM391.77 1120.55L398.17 1126.95L391.77 1133.35L385.37 1126.95ZM394.56 1119.59L400.96 1125.99L394.56 1132.39L388.16 1125.99ZM397.33 1118.61L403.73 1125.01L397.33 1131.41L390.93 1125.01ZM400.07 1117.59L406.47 1123.99L400.07 1130.39L393.67 1123.99ZM402.79 1116.55L409.19 1122.95L402.79 1129.35L396.39 1122.95ZM405.49 1115.48L411.89 1121.88L405.49 1128.28L399.09 1121.88ZM408.17 1114.38L414.57 1120.78L408.17 1127.18L401.77 1120.78ZM410.83 1113.25L417.23 1119.65L410.83 1126.05L404.43 1119.65ZM413.47 1112.11L419.87 1118.51L413.47 1124.91L407.07 1118.51ZM416.09 1110.94L422.49 1117.34L416.09 1123.74L409.69 1117.34ZM418.70 1109.76L425.10 1116.16L418.70 1122.56L412.30 1116.16ZM421.29 1108.56L427.69 1114.96L421.29 1121.36L414.89 1114.96ZM423.86 1107.35L430.26 1113.75L423.86 1120.15L417.46 1113.75ZM426.42 1106.12L432.82 1112.52L426.42 1118.92L420.02 1112.52ZM428.94 1104.86L435.34 1111.26L428.94 1117.66L422.54 1111.26ZM431.45 1103.57L437.85 1109.97L431.45 1116.37L425.05 1109.97ZM433.93 1102.24L440.33 1108.64L433.93 1115.04L427.53 1108.64ZM436.39 1100.90L442.79 1107.30L436.39 1113.70L429.99 1107.30ZM438.83 1099.54L445.23 1105.94L438.83 1112.34L432.43 1105.94ZM441.26 1098.16L447.66 1104.56L441.26 1110.96L434.86 1104.56ZM443.67 1096.76L450.07 1103.16L443.67 1109.56L437.27 1103.16ZM446.06 1095.35L452.46 1101.75L446.06 1108.15L439.66 1101.75ZM448.44 1093.94L454.84 1100.34L448.44 1106.74L442.04 1100.34ZM450.80 1092.51L457.20 1098.91L450.80 1105.31L444.40 1098.91ZM453.16 1091.08L459.56 1097.48L453.16 1103.88L446.76 1097.48ZM455.50 1089.63L461.90 1096.03L455.50 1102.43L449.10 1096.03ZM457.83 1088.19L464.23 1094.59L457.83 1100.99L451.43 1094.59ZM460.15 1086.73L466.55 1093.13L460.15 1099.53L453.75 1093.13ZM462.46 1085.28L468.86 1091.68L462.46 1098.08L456.06 1091.68ZM464.76 1083.82L471.16 1090.22L464.76 1096.62L458.36 1090.22ZM467.06 1082.36L473.46 1088.76L467.06 1095.16L460.66 1088.76ZM469.35 1080.90L475.75 1087.30L469.35 1093.70L462.95 1087.30ZM471.63 1079.44L478.03 1085.84L471.63 1092.24L465.23 1085.84ZM473.90 1077.98L480.30 1084.38L473.90 1090.78L467.50 1084.38ZM476.17 1076.52L482.57 1082.92L476.17 1089.32L469.77 1082.92ZM478.44 1075.06L484.84 1081.46L478.44 1087.86L472.04 1081.46ZM480.70 1073.61L487.10 1080.01L480.70 1086.41L474.30 1080.01ZM482.96 1072.17L489.36 1078.57L482.96 1084.97L476.56 1078.57ZM485.23 1070.73L491.63 1077.13L485.23 1083.53L478.83 1077.13ZM487.49 1069.32L493.89 1075.72L487.49 1082.12L481.09 1075.72ZM489.76 1067.92L496.16 1074.32L489.76 1080.72L483.36 1074.32ZM492.03 1066.52L498.43 1072.92L492.03 1079.32L485.63 1072.92ZM494.30 1065.12L500.70 1071.52L494.30 1077.92L487.90 1071.52ZM496.55 1063.71L502.95 1070.11L496.55 1076.51L490.15 1070.11ZM498.79 1062.30L505.19 1068.70L498.79 1075.10L492.39 1068.70ZM501.02 1060.87L507.42 1067.27L501.02 1073.67L494.62 1067.27ZM503.23 1059.43L509.63 1065.83L503.23 1072.23L496.83 1065.83ZM505.44 1057.98L511.84 1064.38L505.44 1070.78L499.04 1064.38ZM507.63 1056.52L514.03 1062.92L507.63 1069.32L501.23 1062.92ZM509.81 1055.05L516.21 1061.45L509.81 1067.85L503.41 1061.45ZM512.00 1053.60L518.40 1060.00L512.00 1066.40L505.60 1060.00Z" fill="none" stroke="#008b00" stroke-width="2.5" stroke-linejoin="miter"/>
<path d="M91.00 750.61L97.40 761.70L84.60 761.70ZM93.31 750.33L99.71 761.42L86.91 761.42ZM95.62 750.02L102.02 761.10L89.22 761.10ZM97.93 749.81L104.33 760.89L91.53 760.89ZM100.26 749.76L106.66 760.84L93.86 760.84ZM102.58 749.91L108.98 760.99L96.18 760.99ZM104.88 750.27L111.28 761.36L98.48 761.36ZM107.16 750.73L113.56 761.81L100.76 761.81ZM109.43 751.24L115.83 762.33L103.03 762.33ZM111.69 751.81L118.09 762.90L105.29 762.90ZM113.93 752.44L120.33 763.53L107.53 763.53ZM116.15 753.13L122.55 764.22L109.75 764.22ZM118.35 753.89L124.75 764.97L111.95 764.97ZM120.54 754.70L126.94 765.79L114.14 765.79ZM122.69 755.58L129.09 766.66L116.29 766.66ZM124.82 756.52L131.22 767.61L118.42 767.61ZM126.91 757.54L133.31 768.62L120.51 768.62ZM128.98 758.62L135.38 769.70L122.58 769.70ZM131.00 759.76L137.40 770.84L124.60 770.84ZM133.01 760.94L139.41 772.03L126.61 772.03ZM134.99 762.17L141.39 773.25L128.59 773.25ZM136.95 763.41L143.35 774.50L130.55 774.50ZM138.91 764.67L145.31 775.75L132.51 775.75ZM140.88 765.92L147.28 777.00L134.48 777.00ZM142.84 767.17L149.24 778.25L136.44 778.25ZM144.81 768.41L151.21 779.49L138.41 779.49ZM146.78 769.64L153.18 780.72L140.38 780.72ZM148.77 770.86L155.17 781.94L142.37 781.94ZM150.76 772.07L157.16 783.15L144.36 783.15ZM152.75 773.27L159.15 784.36L146.35 784.36ZM154.74 774.48L161.14 785.56L148.34 785.56ZM156.73 775.68L163.13 786.76L150.33 786.76ZM158.73 776.88L165.13 787.96L152.33 787.96ZM160.72 778.08L167.12 789.16L154.32 789.16ZM162.72 779.28L169.12 790.36L156.32 790.36ZM164.71 780.48L171.11 791.56L158.31 791.56ZM166.70 781.68L173.10 792.76L160.30 792.76ZM168.70 782.88L175.10 793.96L162.30 793.96ZM170.69 784.08L177.09 795.17L164.29 795.17ZM172.68 785.29L179.08 796.37L166.28 796.37ZM174.67 786.49L181.07 797.58L168.27 797.58ZM176.67 787.70L183.07 798.78L170.27 798.78ZM178.65 788.91L185.05 799.99L172.25 799.99ZM180.64 790.12L187.04 801.20L174.24 801.20ZM182.63 791.33L189.03 802.41L176.23 802.41ZM184.61 792.54L191.01 803.63L178.21 803.63ZM186.60 793.76L193.00 804.85L180.20 804.85ZM188.58 794.98L194.98 806.07L182.18 806.07ZM190.56 796.20L196.96 807.29L184.16 807.29ZM192.54 797.43L198.94 808.52L186.14 808.52ZM194.51 798.66L200.91 809.75L188.11 809.75ZM196.49 799.90L202.89 810.98L190.09 810.98ZM198.46 801.13L204.86 812.22L192.06 812.22ZM200.42 802.38L206.82 813.46L194.02 813.46ZM202.39 803.63L208.79 814.71L195.99 814.71ZM204.35 804.88L210.75 815.97L197.95 815.97ZM206.31 806.14L212.71 817.23L199.91 817.23ZM208.26 807.41L214.66 818.49L201.86 818.49ZM210.21 808.67L216.61 819.76L203.81 819.76ZM212.16 809.94L218.56 821.03L205.76 821.03ZM214.11 811.22L220.51 822.30L207.71 822.30ZM216.06 812.49L222.46 823.57L209.66 823.57ZM218.01 813.77L224.41 824.85L211.61 824.85ZM219.95 815.04L226.35 826.13L213.55 826.13ZM221.90 816.32L228.30 827.41L215.50 827.41ZM223.84 817.60L230.24 828.69L217.44 828.69ZM225.78 818.89L232.18 829.97L219.38 829.97ZM227.72 820.17L234.12 831.26L221.32 831.26ZM229.67 821.46L236.07 832.54L223.27 832.54ZM231.61 822.74L238.01 833.83L225.21 833.83ZM233.55 824.03L239.95 835.11L227.15 835.11ZM235.48 825.31L241.88 836.40L229.08 836.40ZM237.42 826.60L243.82 837.69L231.02 837.69ZM239.36 827.89L245.76 838.98L232.96 838.98ZM241.30 829.18L247.70 840.26L234.90 840.26ZM243.24 830.47L249.64 841.55L236.84 841.55ZM245.18 831.76L251.58 842.84L238.78 842.84ZM247.12 833.04L253.52 844.13L240.72 844.13ZM249.06 834.33L255.46 845.41L242.66 845.41ZM251.00 835.61L257.40 846.70L244.60 846.70Z" fill="none" stroke="#0000ff" stroke-width="2.5" stroke-linejoin="miter"/>
<path d="M91.00 1153.61L97.40 1164.70L84.60 1164.70ZM100.70 1150.82L107.10 1161.91L94.30 1161.91ZM108.81 1149.15L115.21 1160.23L102.41 1160.23ZM115.83 1147.80L122.23 1158.89L109.43 1158.89ZM122.05 1146.51L128.45 1157.60L115.65 1157.60ZM127.69 1145.29L134.09 1156.38L121.29 1156.38ZM132.89 1144.15L139.29 1155.24L126.49 1155.24ZM137.75 1143.06L144.15 1154.14L131.35 1154.14ZM142.32 1142.00L148.72 1153.08L135.92 1153.08ZM146.66 1140.95L153.06 1152.04L140.26 1152.04ZM150.80 1139.91L157.20 1150.99L144.40 1150.99ZM154.77 1138.87L161.17 1149.95L148.37 1149.95ZM158.59 1137.83L164.99 1148.92L152.19 1148.92ZM162.30 1136.81L168.70 1147.89L155.90 1147.89ZM165.89 1135.79L172.29 1146.87L159.49 1146.87ZM169.39 1134.77L175.79 1145.85L162.99 1145.85ZM172.81 1133.76L179.21 1144.85L166.41 1144.85ZM176.16 1132.76L182.56 1143.85L169.76 1143.85ZM179.45 1131.78L185.85 1142.86L173.05 1142.86ZM182.68 1130.81L189.08 1141.90L176.28 1141.90ZM185.87 1129.88L192.27 1140.96L179.47 1140.96ZM189.02 1128.96L195.42 1140.05L182.62 1140.05ZM192.14 1128.06L198.54 1139.15L185.74 1139.15ZM195.21 1127.17L201.61 1138.25L188.81 1138.25ZM198.26 1126.28L204.66 1137.36L191.86 1137.36ZM201.27 1125.39L207.67 1136.47L194.87 1136.47ZM204.25 1124.49L210.65 1135.57L197.85 1135.57ZM207.20 1123.58L213.60 1134.67L200.80 1134.67ZM210.13 1122.66L216.53 1133.75L203.73 1133.75ZM213.03 1121.73L219.43 1132.82L206.63 1132.82ZM215.91 1120.78L222.31 1131.86L209.51 1131.86ZM218.76 1119.80L225.16 1130.89L212.36 1130.89ZM221.58 1118.80L227.98 1129.89L215.18 1129.89ZM224.38 1117.77L230.78 1128.86L217.98 1128.86ZM227.16 1116.71L233.56 1127.79L220.76 1127.79ZM229.90 1115.61L236.30 1126.70L223.50 1126.70ZM232.63 1114.49L239.03 1125.57L226.23 1125.57ZM235.34 1113.34L241.74 1124.43L228.94 1124.43ZM238.02 1112.18L244.42 1123.27L231.62 1123.27ZM240.70 1111.00L247.10 1122.09L234.30 1122.09ZM243.36 1109.81L249.76 1120.89L236.96 1120.89ZM246.00 1108.60L252.40 1119.69L239.60 1119.69ZM248.63 1107.39L255.03 1118.48L242.23 1118.48ZM251.26 1106.17L257.66 1117.25L244.86 1117.25ZM253.87 1104.94L260.27 1116.02L247.47 1116.02ZM256.48 1103.70L262.88 1114.79L250.08 1114.79ZM259.08 1102.46L265.48 1113.55L252.68 1113.55ZM261.67 1101.22L268.07 1112.31L255.27 1112.31ZM264.26 1099.98L270.66 1111.07L257.86 1111.07ZM266.84 1098.74L273.24 1109.83L260.44 1109.83ZM269.43 1097.50L275.83 1108.59L263.03 1108.59ZM272.01 1096.27L278.41 1107.36L265.61 1107.36ZM274.59 1095.05L280.99 1106.13L268.19 1106.13ZM277.17 1093.82L283.57 1104.91L270.77 1104.91ZM279.75 1092.60L286.15 1103.69L273.35 1103.69ZM282.33 1091.37L288.73 1102.46L275.93 1102.46ZM284.89 1090.14L291.29 1101.22L278.49 1101.22ZM287.45 1088.88L293.85 1099.97L281.05 1099.97ZM289.99 1087.61L296.39 1098.69L283.59 1098.69ZM292.52 1086.30L298.92 1097.39L286.12 1097.39ZM295.03 1084.97L301.43 1096.05L288.63 1096.05ZM297.51 1083.58L303.91 1094.67L291.11 1094.67ZM299.97 1082.16L306.37 1093.24L293.57 1093.24ZM302.39 1080.68L308.79 1091.76L295.99 1091.76ZM304.77 1079.13L311.17 1090.22L298.37 1090.22ZM307.10 1077.52L313.50 1088.60L300.70 1088.60ZM309.40 1075.86L315.80 1086.94L303.00 1086.94ZM311.67 1074.16L318.07 1085.24L305.27 1085.24ZM313.92 1072.43L320.32 1083.52L307.52 1083.52ZM316.15 1070.68L322.55 1081.77L309.75 1081.77ZM318.36 1068.91L324.76 1080.00L311.96 1080.00ZM320.57 1067.13L326.97 1078.22L314.17 1078.22ZM322.77 1065.36L329.17 1076.44L316.37 1076.44ZM325.00 1063.61L331.40 1074.70L318.60 1074.70Z" fill="none" stroke="#0000ff" stroke-width="2.5" stroke-linejoin="miter"/>
<path d="M90.5 951.6 L322.2 950.9 L450.4 946.9 L549.9 935.4 L710.5 911.9" fill="none" stroke="#bc8f8f" stroke-width="2.6" stroke-dasharray="10.5 6.5"/>
<circle cx="90.5" cy="951.6" r="9.6" fill="#ffa500"/>
<path d="M322.20 943.51L328.60 954.60L315.80 954.60Z" fill="none" stroke="#0000ff" stroke-width="2.5" stroke-linejoin="miter"/>
<path d="M450.40 940.50L456.80 946.90L450.40 953.30L444.00 946.90Z" fill="none" stroke="#008b00" stroke-width="2.5" stroke-linejoin="miter"/>
<path d="M544.46 929.96h10.88v10.88h-10.88Z" fill="none" stroke="#ff0000" stroke-width="2.5" stroke-linejoin="miter"/>
<path d="M716.90 911.90a6.4 6.4 0 1 0 -12.80 0a6.4 6.4 0 1 0 12.80 0Z" fill="none" stroke="#000000" stroke-width="2.5" stroke-linejoin="miter"/>
</g>
<path d="M90.60 1202.5V1183.0M90.60 668.0V687.5M315.33 1202.5V1183.0M315.33 668.0V687.5M540.05 1202.5V1183.0M540.05 668.0V687.5M764.77 1202.5V1183.0M764.77 668.0V687.5M989.50 1202.5V1183.0M989.50 668.0V687.5M202.96 1202.5V1192.7M202.96 668.0V677.8M427.69 1202.5V1192.7M427.69 668.0V677.8M652.41 1202.5V1192.7M652.41 668.0V677.8M877.14 1202.5V1192.7M877.14 668.0V677.8M90.6 1202.50H110.1M989.5 1202.50H970.0M90.6 1113.42H110.1M989.5 1113.42H970.0M90.6 1024.33H110.1M989.5 1024.33H970.0M90.6 935.25H110.1M989.5 935.25H970.0M90.6 846.17H110.1M989.5 846.17H970.0M90.6 757.08H110.1M989.5 757.08H970.0M90.6 668.00H110.1M989.5 668.00H970.0M90.6 1157.96H100.39999999999999M989.5 1157.96H979.7M90.6 1068.88H100.39999999999999M989.5 1068.88H979.7M90.6 979.79H100.39999999999999M989.5 979.79H979.7M90.6 890.71H100.39999999999999M989.5 890.71H979.7M90.6 801.62H100.39999999999999M989.5 801.62H979.7M90.6 712.54H100.39999999999999M989.5 712.54H979.7" stroke="#000" stroke-width="2.4" fill="none"/>
<rect x="90.6" y="668.0" width="898.90" height="534.50" fill="none" stroke="#000" stroke-width="2.5"/>
<text font-family="Liberation Sans" font-size="32.75" transform="matrix(1.0576 0 0 1 83.69 603.90)" fill="#000" stroke="#000" stroke-width="0.35">0</text>
<text font-family="Liberation Sans" font-size="32.75" transform="matrix(0.9276 0 0 1 268.06 603.90)" fill="#000" stroke="#000" stroke-width="0.35">0.05</text>
<text font-family="Liberation Sans" font-size="32.75" transform="matrix(0.9549 0 0 1 480.32 603.90)" fill="#000" stroke="#000" stroke-width="0.35">0.1</text>
<text font-family="Liberation Sans" font-size="32.75" transform="matrix(0.9440 0 0 1 676.12 603.90)" fill="#000" stroke="#000" stroke-width="0.35">0.15</text>
<text font-family="Liberation Sans" font-size="32.75" transform="matrix(0.9549 0 0 1 888.91 603.90)" fill="#000" stroke="#000" stroke-width="0.35">0.2</text>
<text font-family="Liberation Sans" font-size="32.32" transform="matrix(0.9718 0 0 1 44.92 586.25)" fill="#000" stroke="#000" stroke-width="0.35">0.0</text>
<text font-family="Liberation Sans" font-size="32.32" transform="matrix(0.9793 0 0 1 44.91 452.65)" fill="#000" stroke="#000" stroke-width="0.35">0.2</text>
<text font-family="Liberation Sans" font-size="32.32" transform="matrix(0.9644 0 0 1 44.93 319.05)" fill="#000" stroke="#000" stroke-width="0.35">0.4</text>
<text font-family="Liberation Sans" font-size="32.32" transform="matrix(0.9755 0 0 1 44.91 185.45)" fill="#000" stroke="#000" stroke-width="0.35">0.6</text>
<text font-family="Liberation Sans" font-size="32.32" transform="matrix(0.9718 0 0 1 44.92 51.85)" fill="#000" stroke="#000" stroke-width="0.35">0.8</text>
<text font-family="Liberation Sans" font-size="32.75" transform="matrix(1.0576 0 0 1 83.69 1230.30)" fill="#000" stroke="#000" stroke-width="0.35">0</text>
<text font-family="Liberation Sans" font-size="32.75" transform="matrix(0.9112 0 0 1 289.01 1230.30)" fill="#000" stroke="#000" stroke-width="0.35">0.05</text>
<text font-family="Liberation Sans" font-size="32.75" transform="matrix(0.9431 0 0 1 521.44 1230.30)" fill="#000" stroke="#000" stroke-width="0.35">0.1</text>
<text font-family="Liberation Sans" font-size="32.75" transform="matrix(0.9440 0 0 1 737.41 1230.30)" fill="#000" stroke="#000" stroke-width="0.35">0.15</text>
<text font-family="Liberation Sans" font-size="32.75" transform="matrix(0.9784 0 0 1 970.09 1230.30)" fill="#000" stroke="#000" stroke-width="0.35">0.2</text>
<text font-family="Liberation Sans" font-size="32.32" transform="matrix(0.9718 0 0 1 44.92 1212.95)" fill="#000" stroke="#000" stroke-width="0.35">0.0</text>
<text font-family="Liberation Sans" font-size="32.32" transform="matrix(0.9793 0 0 1 44.91 1123.87)" fill="#000" stroke="#000" stroke-width="0.35">0.1</text>
<text font-family="Liberation Sans" font-size="32.32" transform="matrix(0.9793 0 0 1 44.91 1034.79)" fill="#000" stroke="#000" stroke-width="0.35">0.2</text>
<text font-family="Liberation Sans" font-size="32.32" transform="matrix(0.9755 0 0 1 44.91 945.70)" fill="#000" stroke="#000" stroke-width="0.35">0.3</text>
<text font-family="Liberation Sans" font-size="32.32" transform="matrix(0.9644 0 0 1 44.93 856.62)" fill="#000" stroke="#000" stroke-width="0.35">0.4</text>
<text font-family="Liberation Sans" font-size="32.32" transform="matrix(0.9718 0 0 1 44.92 767.54)" fill="#000" stroke="#000" stroke-width="0.35">0.5</text>
<text font-family="Liberation Sans" font-size="32.32" transform="matrix(0.9755 0 0 1 44.91 678.45)" fill="#000" stroke="#000" stroke-width="0.35">0.6</text>
<text font-family="Liberation Serif" font-size="43.50" transform="matrix(1.0940 0 0 1 500.61 642.45)" fill="#000">ρ</text>
<text font-family="Liberation Serif" font-size="30.91" transform="matrix(1.1081 0 0 1 523.86 659.20)" fill="#000">2</text>
<text font-family="Liberation Serif" font-size="38.86" transform="matrix(1.2257 0 0 1 538.99 642.01)" fill="#000">σ</text>
<text font-family="Liberation Serif" font-size="30.91" transform="matrix(1.0353 0 0 1 563.96 617.40)" fill="#000">2</text>
<text font-family="Liberation Serif" font-size="43.50" transform="matrix(1.0940 0 0 1 500.61 1277.65)" fill="#000">ρ</text>
<text font-family="Liberation Serif" font-size="30.91" transform="matrix(1.1081 0 0 1 523.86 1294.40)" fill="#000">2</text>
<text font-family="Liberation Serif" font-size="38.86" transform="matrix(1.2257 0 0 1 538.99 1277.21)" fill="#000">σ</text>
<text font-family="Liberation Serif" font-size="30.45" transform="matrix(1.0253 0 0 1 563.84 1252.30)" fill="#000">3</text>
<text font-family="Liberation Serif" font-size="43.21" transform="matrix(0 -1.0780 1 0 22.81 340.33)">ρ</text>
<text font-family="Liberation Serif" font-size="28.96" transform="matrix(0 -1.1119 1 0 39.41 318.21)">3</text>
<text font-family="Liberation Serif" font-size="36.95" transform="matrix(0 -1.3001 1 0 22.43 302.42)">σ</text>
<text font-family="Liberation Serif" font-size="30.91" transform="matrix(0 -1.0919 1 0 12.20 271.02)">2</text>
<text font-family="Liberation Serif" font-size="43.21" transform="matrix(0 -1.0780 1 0 22.81 966.53)">ρ</text>
<text font-family="Liberation Serif" font-size="29.39" transform="matrix(0 -0.9657 1 0 39.70 943.37)">4</text>
<text font-family="Liberation Serif" font-size="36.95" transform="matrix(0 -1.3001 1 0 22.43 928.62)">σ</text>
<text font-family="Liberation Serif" font-size="30.45" transform="matrix(0 -1.0814 1 0 11.90 897.35)">3</text>
<text font-family="Liberation Sans" font-size="52.57" transform="matrix(0.8578 0 0 1 -11.83 97.79)" fill="#000" stroke="#000" stroke-width="0.35">(</text>
<text font-family="Liberation Sans" font-size="51.55" transform="matrix(0.9339 0 0 1 5.31 97.91)" fill="#000" stroke="#000" stroke-width="0.35">a</text>
<text font-family="Liberation Sans" font-size="52.57" transform="matrix(0.8743 0 0 1 38.02 97.79)" fill="#000" stroke="#000" stroke-width="0.35">)</text>
<text font-family="Liberation Sans" font-size="52.57" transform="matrix(0.8578 0 0 1 -11.83 723.79)" fill="#000" stroke="#000" stroke-width="0.35">(</text>
<text font-family="Liberation Sans" font-size="52.72" transform="matrix(1.0348 0 0 1 3.93 723.90)" fill="#000" stroke="#000" stroke-width="0.35">b</text>
<text font-family="Liberation Sans" font-size="52.57" transform="matrix(0.8743 0 0 1 38.02 723.79)" fill="#000" stroke="#000" stroke-width="0.35">)</text>
<path d="M653.20 325.50a6.4 6.4 0 1 0 -12.80 0a6.4 6.4 0 1 0 12.80 0Z" fill="none" stroke="#000000" stroke-width="2.5" stroke-linejoin="miter"/>
<text font-family="Liberation Sans" font-size="33.55" transform="matrix(1.0484 0 0 1 679.77 335.43)" fill="#000" stroke="#000" stroke-width="0.35">T</text>
<text font-family="Liberation Sans" font-size="43.43" transform="matrix(1.0395 0 0 1 699.35 330.92)" fill="#000" stroke="#000" stroke-width="0.5">*</text>
<text font-family="Liberation Sans" font-size="26.87" transform="matrix(1.5881 0 0 1 709.57 334.87)" fill="#000" stroke="#000" stroke-width="0.6">=</text>
<text font-family="Liberation Sans" font-size="33.73" transform="matrix(0.9047 0 0 1 735.95 335.89)" fill="#000" stroke="#000" stroke-width="0.35">0.100</text>
<path d="M641.36 349.43h10.88v10.88h-10.88Z" fill="none" stroke="#ff0000" stroke-width="2.5" stroke-linejoin="miter"/>
<text font-family="Liberation Sans" font-size="33.55" transform="matrix(1.0484 0 0 1 679.77 364.80)" fill="#000" stroke="#000" stroke-width="0.35">T</text>
<text font-family="Liberation Sans" font-size="43.43" transform="matrix(1.0395 0 0 1 699.35 360.29)" fill="#000" stroke="#000" stroke-width="0.5">*</text>
<text font-family="Liberation Sans" font-size="26.87" transform="matrix(1.5881 0 0 1 709.57 364.24)" fill="#000" stroke="#000" stroke-width="0.6">=</text>
<text font-family="Liberation Sans" font-size="33.73" transform="matrix(0.9047 0 0 1 735.95 365.26)" fill="#000" stroke="#000" stroke-width="0.35">0.105</text>
<path d="M646.80 377.84L653.20 384.24L646.80 390.64L640.40 384.24Z" fill="none" stroke="#008b00" stroke-width="2.5" stroke-linejoin="miter"/>
<text font-family="Liberation Sans" font-size="33.55" transform="matrix(1.0484 0 0 1 679.77 394.17)" fill="#000" stroke="#000" stroke-width="0.35">T</text>
<text font-family="Liberation Sans" font-size="43.43" transform="matrix(1.0395 0 0 1 699.35 389.66)" fill="#000" stroke="#000" stroke-width="0.5">*</text>
<text font-family="Liberation Sans" font-size="26.87" transform="matrix(1.5881 0 0 1 709.57 393.61)" fill="#000" stroke="#000" stroke-width="0.6">=</text>
<text font-family="Liberation Sans" font-size="33.73" transform="matrix(0.9336 0 0 1 735.92 394.63)" fill="#000" stroke="#000" stroke-width="0.35">0.110</text>
<path d="M646.80 406.22L653.20 417.31L640.40 417.31Z" fill="none" stroke="#0000ff" stroke-width="2.5" stroke-linejoin="miter"/>
<text font-family="Liberation Sans" font-size="33.55" transform="matrix(1.0484 0 0 1 679.77 423.54)" fill="#000" stroke="#000" stroke-width="0.35">T</text>
<text font-family="Liberation Sans" font-size="43.43" transform="matrix(1.0395 0 0 1 699.35 419.03)" fill="#000" stroke="#000" stroke-width="0.5">*</text>
<text font-family="Liberation Sans" font-size="26.87" transform="matrix(1.5881 0 0 1 709.57 422.98)" fill="#000" stroke="#000" stroke-width="0.6">=</text>
<text font-family="Liberation Sans" font-size="33.73" transform="matrix(0.9336 0 0 1 735.92 424.00)" fill="#000" stroke="#000" stroke-width="0.35">0.115</text>
<path d="M639.41 442.98L650.50 436.58L650.50 449.38Z" fill="none" stroke="#670748" stroke-width="2.5" stroke-linejoin="miter"/>
<text font-family="Liberation Sans" font-size="33.55" transform="matrix(1.0484 0 0 1 679.77 452.91)" fill="#000" stroke="#000" stroke-width="0.35">T</text>
<text font-family="Liberation Sans" font-size="43.43" transform="matrix(1.0395 0 0 1 699.35 448.40)" fill="#000" stroke="#000" stroke-width="0.5">*</text>
<text font-family="Liberation Sans" font-size="26.87" transform="matrix(1.5881 0 0 1 709.57 452.35)" fill="#000" stroke="#000" stroke-width="0.6">=</text>
<text font-family="Liberation Sans" font-size="33.73" transform="matrix(0.9047 0 0 1 735.95 453.37)" fill="#000" stroke="#000" stroke-width="0.35">0.120</text>
<path d="M646.80 479.74L653.20 468.65L640.40 468.65Z" fill="none" stroke="#bc8f8f" stroke-width="2.5" stroke-linejoin="miter"/>
<text font-family="Liberation Sans" font-size="33.55" transform="matrix(1.0484 0 0 1 679.77 482.28)" fill="#000" stroke="#000" stroke-width="0.35">T</text>
<text font-family="Liberation Sans" font-size="43.43" transform="matrix(1.0395 0 0 1 699.35 477.77)" fill="#000" stroke="#000" stroke-width="0.5">*</text>
<text font-family="Liberation Sans" font-size="26.87" transform="matrix(1.5881 0 0 1 709.57 481.72)" fill="#000" stroke="#000" stroke-width="0.6">=</text>
<text font-family="Liberation Sans" font-size="33.73" transform="matrix(0.9047 0 0 1 735.95 482.74)" fill="#000" stroke="#000" stroke-width="0.35">0.125</text>
<path d="M654.19 501.72L643.10 495.32L643.10 508.12Z" fill="none" stroke="#40e0d0" stroke-width="2.5" stroke-linejoin="miter"/>
<text font-family="Liberation Sans" font-size="33.55" transform="matrix(1.0484 0 0 1 679.77 511.65)" fill="#000" stroke="#000" stroke-width="0.35">T</text>
<text font-family="Liberation Sans" font-size="43.43" transform="matrix(1.0395 0 0 1 699.35 507.14)" fill="#000" stroke="#000" stroke-width="0.5">*</text>
<text font-family="Liberation Sans" font-size="26.87" transform="matrix(1.5881 0 0 1 709.57 511.09)" fill="#000" stroke="#000" stroke-width="0.6">=</text>
<text font-family="Liberation Sans" font-size="33.73" transform="matrix(0.9047 0 0 1 735.95 512.11)" fill="#000" stroke="#000" stroke-width="0.35">0.130</text>
<path d="M640.40 531.09H653.20M646.80 524.69V537.49" fill="none" stroke="#9400d3" stroke-width="2.5" stroke-linejoin="miter"/>
<text font-family="Liberation Sans" font-size="33.55" transform="matrix(1.0484 0 0 1 679.77 541.02)" fill="#000" stroke="#000" stroke-width="0.35">T</text>
<text font-family="Liberation Sans" font-size="43.43" transform="matrix(1.0395 0 0 1 699.35 536.51)" fill="#000" stroke="#000" stroke-width="0.5">*</text>
<text font-family="Liberation Sans" font-size="26.88" transform="matrix(1.5881 0 0 1 709.57 540.46)" fill="#000" stroke="#000" stroke-width="0.6">=</text>
<text font-family="Liberation Sans" font-size="33.73" transform="matrix(0.9047 0 0 1 735.95 541.48)" fill="#000" stroke="#000" stroke-width="0.35">0.135</text>
<path d="M764.70 720.90a6.4 6.4 0 1 0 -12.80 0a6.4 6.4 0 1 0 12.80 0Z" fill="none" stroke="#000000" stroke-width="2.5" stroke-linejoin="miter"/>
<text font-family="Liberation Sans" font-size="33.55" transform="matrix(1.0484 0 0 1 791.27 730.83)" fill="#000" stroke="#000" stroke-width="0.35">T</text>
<text font-family="Liberation Sans" font-size="43.43" transform="matrix(1.0395 0 0 1 810.85 726.32)" fill="#000" stroke="#000" stroke-width="0.5">*</text>
<text font-family="Liberation Sans" font-size="26.88" transform="matrix(1.5881 0 0 1 821.07 730.27)" fill="#000" stroke="#000" stroke-width="0.6">=</text>
<text font-family="Liberation Sans" font-size="33.73" transform="matrix(0.9047 0 0 1 847.45 731.29)" fill="#000" stroke="#000" stroke-width="0.35">0.130</text>
<path d="M752.86 744.46h10.88v10.88h-10.88Z" fill="none" stroke="#ff0000" stroke-width="2.5" stroke-linejoin="miter"/>
<text font-family="Liberation Sans" font-size="33.55" transform="matrix(1.0484 0 0 1 791.27 759.83)" fill="#000" stroke="#000" stroke-width="0.35">T</text>
<text font-family="Liberation Sans" font-size="43.43" transform="matrix(1.0395 0 0 1 810.85 755.32)" fill="#000" stroke="#000" stroke-width="0.5">*</text>
<text font-family="Liberation Sans" font-size="26.88" transform="matrix(1.5881 0 0 1 821.07 759.27)" fill="#000" stroke="#000" stroke-width="0.6">=</text>
<text font-family="Liberation Sans" font-size="33.73" transform="matrix(0.9047 0 0 1 847.45 760.29)" fill="#000" stroke="#000" stroke-width="0.35">0.140</text>
<path d="M758.30 772.50L764.70 778.90L758.30 785.30L751.90 778.90Z" fill="none" stroke="#008b00" stroke-width="2.5" stroke-linejoin="miter"/>
<text font-family="Liberation Sans" font-size="33.55" transform="matrix(1.0484 0 0 1 791.27 788.83)" fill="#000" stroke="#000" stroke-width="0.35">T</text>
<text font-family="Liberation Sans" font-size="43.43" transform="matrix(1.0395 0 0 1 810.85 784.32)" fill="#000" stroke="#000" stroke-width="0.5">*</text>
<text font-family="Liberation Sans" font-size="26.88" transform="matrix(1.5881 0 0 1 821.07 788.27)" fill="#000" stroke="#000" stroke-width="0.6">=</text>
<text font-family="Liberation Sans" font-size="33.73" transform="matrix(0.9047 0 0 1 847.45 789.29)" fill="#000" stroke="#000" stroke-width="0.35">0.145</text>
<path d="M758.30 800.51L764.70 811.60L751.90 811.60Z" fill="none" stroke="#0000ff" stroke-width="2.5" stroke-linejoin="miter"/>
<text font-family="Liberation Sans" font-size="33.55" transform="matrix(1.0484 0 0 1 791.27 817.83)" fill="#000" stroke="#000" stroke-width="0.35">T</text>
<text font-family="Liberation Sans" font-size="43.43" transform="matrix(1.0395 0 0 1 810.85 813.32)" fill="#000" stroke="#000" stroke-width="0.5">*</text>
<text font-family="Liberation Sans" font-size="26.88" transform="matrix(1.5881 0 0 1 821.07 817.27)" fill="#000" stroke="#000" stroke-width="0.6">=</text>
<text font-family="Liberation Sans" font-size="33.73" transform="matrix(0.9047 0 0 1 847.45 818.29)" fill="#000" stroke="#000" stroke-width="0.35">0.150</text>
</svg>
</body></html>
